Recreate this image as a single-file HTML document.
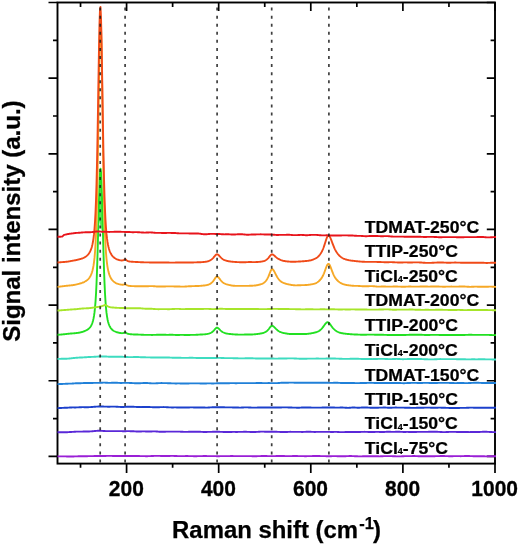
<!DOCTYPE html>
<html><head><meta charset="utf-8"><title>Raman spectra</title>
<style>
html,body{margin:0;padding:0;background:#fff}
svg{display:block;font-family:"Liberation Sans",sans-serif;font-weight:bold;fill:#000}
</style></head><body>
<svg width="520" height="545" viewBox="0 0 520 545">
<rect width="520" height="545" fill="#fff"/>
<rect x="57.5" y="2.5" width="437.5" height="461.1" fill="none" stroke="#000" stroke-width="1.9"/>
<path d="M48.5 2.50H57.5M486.8 2.50H495M48.5 78.15H57.5M486.8 78.15H495M48.5 153.80H57.5M486.8 153.80H495M48.5 229.45H57.5M486.8 229.45H495M48.5 305.10H57.5M486.8 305.10H495M48.5 380.75H57.5M486.8 380.75H495M48.5 456.40H57.5M486.8 456.40H495M53 40.33H57.5M490.6 40.33H495M53 115.98H57.5M490.6 115.98H495M53 191.62H57.5M490.6 191.62H495M53 267.28H57.5M490.6 267.28H495M53 342.93H57.5M490.6 342.93H495M53 418.58H57.5M490.6 418.58H495M126.58 2.5V11M126.58 463.6V473M218.68 2.5V11M218.68 463.6V473M310.79 2.5V11M310.79 463.6V473M402.89 2.5V11M402.89 463.6V473M495.00 2.5V11M495.00 463.6V473M80.53 2.5V7M80.53 463.6V467.8M172.63 2.5V7M172.63 463.6V467.8M264.74 2.5V7M264.74 463.6V467.8M356.84 2.5V7M356.84 463.6V467.8M448.95 2.5V7M448.95 463.6V467.8" fill="none" stroke="#000" stroke-width="1.7"/>
<g fill="none" stroke-width="1.9" stroke-linejoin="round" stroke-linecap="butt">
<path d="M57.5 456.37 L58.0 456.36 L58.5 456.35 L59.0 456.35 L59.5 456.35 L60.0 456.35 L60.5 456.35 L61.0 456.35 L61.5 456.36 L62.0 456.36 L62.5 456.37 L63.0 456.37 L63.5 456.38 L64.0 456.39 L64.5 456.40 L65.0 456.41 L65.5 456.42 L66.0 456.42 L66.5 456.43 L67.0 456.43 L67.5 456.43 L68.0 456.44 L68.5 456.44 L69.0 456.44 L69.5 456.44 L70.0 456.45 L70.5 456.45 L71.0 456.45 L71.5 456.45 L72.0 456.45 L72.5 456.45 L73.0 456.45 L73.5 456.44 L74.0 456.43 L74.5 456.42 L75.0 456.41 L75.5 456.40 L76.0 456.38 L76.5 456.37 L77.0 456.35 L77.5 456.33 L78.0 456.31 L78.5 456.29 L79.0 456.27 L79.5 456.25 L80.0 456.24 L80.5 456.23 L81.0 456.22 L81.5 456.21 L82.0 456.20 L82.5 456.20 L83.0 456.20 L83.5 456.20 L84.0 456.20 L84.5 456.20 L85.0 456.20 L85.5 456.20 L86.0 456.20 L86.5 456.20 L87.0 456.19 L87.5 456.18 L88.0 456.17 L88.5 456.17 L89.0 456.16 L89.5 456.16 L90.0 456.15 L90.5 456.15 L91.0 456.15 L91.5 456.14 L92.0 456.13 L92.5 456.12 L93.0 456.11 L93.5 456.09 L94.0 456.07 L94.5 456.05 L95.0 456.02 L95.5 456.00 L96.0 455.98 L96.5 455.97 L97.0 455.96 L97.5 455.95 L98.0 455.95 L98.5 455.95 L99.0 455.96 L99.5 455.96 L100.0 455.97 L100.5 455.98 L101.0 455.98 L101.5 455.99 L102.0 455.99 L102.5 455.99 L103.0 455.98 L103.5 455.98 L104.0 455.97 L104.5 455.96 L105.0 455.95 L105.5 455.94 L106.0 455.93 L106.5 455.92 L107.0 455.91 L107.5 455.90 L108.0 455.89 L108.5 455.88 L109.0 455.87 L109.5 455.87 L110.0 455.87 L110.5 455.88 L111.0 455.89 L111.5 455.91 L112.0 455.92 L112.5 455.94 L113.0 455.96 L113.5 455.98 L114.0 455.99 L114.5 456.00 L115.0 456.00 L115.5 456.01 L116.0 456.00 L116.5 456.00 L117.0 455.99 L117.5 455.99 L118.0 455.98 L118.5 455.98 L119.0 455.97 L119.5 455.97 L120.0 455.97 L120.5 455.97 L121.0 455.97 L121.5 455.97 L122.0 455.96 L122.5 455.96 L123.0 455.95 L123.5 455.95 L124.0 455.94 L124.5 455.94 L125.0 455.94 L125.5 455.94 L126.0 455.94 L126.5 455.94 L127.0 455.94 L127.5 455.94 L128.0 455.94 L128.5 455.94 L129.0 455.94 L129.5 455.94 L130.0 455.94 L130.5 455.94 L131.0 455.94 L131.5 455.94 L132.0 455.94 L132.5 455.95 L133.0 455.95 L133.5 455.95 L134.0 455.96 L134.5 455.96 L135.0 455.97 L135.5 455.98 L136.0 455.99 L136.5 456.00 L137.0 456.01 L137.5 456.02 L138.0 456.03 L138.5 456.04 L139.0 456.06 L139.5 456.07 L140.0 456.08 L140.5 456.09 L141.0 456.10 L141.5 456.11 L142.0 456.12 L142.5 456.13 L143.0 456.14 L143.5 456.15 L144.0 456.16 L144.5 456.17 L145.0 456.17 L145.5 456.18 L146.0 456.19 L146.5 456.19 L147.0 456.19 L147.5 456.18 L148.0 456.17 L148.5 456.16 L149.0 456.15 L149.5 456.13 L150.0 456.10 L150.5 456.08 L151.0 456.05 L151.5 456.02 L152.0 456.00 L152.5 455.97 L153.0 455.95 L153.5 455.93 L154.0 455.92 L154.5 455.91 L155.0 455.90 L155.5 455.89 L156.0 455.89 L156.5 455.88 L157.0 455.88 L157.5 455.89 L158.0 455.89 L158.5 455.89 L159.0 455.90 L159.5 455.91 L160.0 455.92 L160.5 455.93 L161.0 455.94 L161.5 455.96 L162.0 455.98 L162.5 455.99 L163.0 456.01 L163.5 456.02 L164.0 456.03 L164.5 456.04 L165.0 456.04 L165.5 456.05 L166.0 456.04 L166.5 456.04 L167.0 456.03 L167.5 456.02 L168.0 456.00 L168.5 455.99 L169.0 455.97 L169.5 455.95 L170.0 455.93 L170.5 455.91 L171.0 455.90 L171.5 455.89 L172.0 455.88 L172.5 455.89 L173.0 455.90 L173.5 455.92 L174.0 455.94 L174.5 455.97 L175.0 455.99 L175.5 456.02 L176.0 456.04 L176.5 456.06 L177.0 456.07 L177.5 456.08 L178.0 456.09 L178.5 456.09 L179.0 456.09 L179.5 456.09 L180.0 456.09 L180.5 456.08 L181.0 456.08 L181.5 456.08 L182.0 456.09 L182.5 456.09 L183.0 456.09 L183.5 456.09 L184.0 456.08 L184.5 456.08 L185.0 456.08 L185.5 456.07 L186.0 456.07 L186.5 456.06 L187.0 456.06 L187.5 456.07 L188.0 456.07 L188.5 456.08 L189.0 456.09 L189.5 456.11 L190.0 456.12 L190.5 456.13 L191.0 456.14 L191.5 456.15 L192.0 456.16 L192.5 456.17 L193.0 456.17 L193.5 456.18 L194.0 456.18 L194.5 456.19 L195.0 456.19 L195.5 456.19 L196.0 456.18 L196.5 456.18 L197.0 456.18 L197.5 456.17 L198.0 456.17 L198.5 456.16 L199.0 456.15 L199.5 456.14 L200.0 456.13 L200.5 456.12 L201.0 456.11 L201.5 456.10 L202.0 456.09 L202.5 456.08 L203.0 456.07 L203.5 456.06 L204.0 456.05 L204.5 456.05 L205.0 456.05 L205.5 456.05 L206.0 456.06 L206.5 456.07 L207.0 456.08 L207.5 456.09 L208.0 456.10 L208.5 456.11 L209.0 456.11 L209.5 456.12 L210.0 456.12 L210.5 456.12 L211.0 456.12 L211.5 456.12 L212.0 456.11 L212.5 456.11 L213.0 456.11 L213.5 456.12 L214.0 456.12 L214.5 456.13 L215.0 456.14 L215.5 456.15 L216.0 456.17 L216.5 456.18 L217.0 456.19 L217.5 456.20 L218.0 456.20 L218.5 456.19 L219.0 456.19 L219.5 456.18 L220.0 456.17 L220.5 456.16 L221.0 456.15 L221.5 456.14 L222.0 456.13 L222.5 456.12 L223.0 456.12 L223.5 456.12 L224.0 456.13 L224.5 456.13 L225.0 456.14 L225.5 456.15 L226.0 456.15 L226.5 456.15 L227.0 456.15 L227.5 456.14 L228.0 456.13 L228.5 456.12 L229.0 456.11 L229.5 456.09 L230.0 456.08 L230.5 456.07 L231.0 456.06 L231.5 456.06 L232.0 456.06 L232.5 456.06 L233.0 456.07 L233.5 456.08 L234.0 456.08 L234.5 456.09 L235.0 456.09 L235.5 456.10 L236.0 456.10 L236.5 456.10 L237.0 456.11 L237.5 456.11 L238.0 456.11 L238.5 456.12 L239.0 456.13 L239.5 456.13 L240.0 456.13 L240.5 456.13 L241.0 456.13 L241.5 456.12 L242.0 456.11 L242.5 456.10 L243.0 456.09 L243.5 456.09 L244.0 456.08 L244.5 456.08 L245.0 456.08 L245.5 456.08 L246.0 456.09 L246.5 456.09 L247.0 456.10 L247.5 456.10 L248.0 456.11 L248.5 456.12 L249.0 456.12 L249.5 456.13 L250.0 456.14 L250.5 456.15 L251.0 456.16 L251.5 456.17 L252.0 456.18 L252.5 456.19 L253.0 456.20 L253.5 456.21 L254.0 456.21 L254.5 456.21 L255.0 456.21 L255.5 456.21 L256.0 456.20 L256.5 456.19 L257.0 456.18 L257.5 456.16 L258.0 456.15 L258.5 456.13 L259.0 456.12 L259.5 456.11 L260.0 456.09 L260.5 456.08 L261.0 456.07 L261.5 456.06 L262.0 456.05 L262.5 456.04 L263.0 456.03 L263.5 456.02 L264.0 456.02 L264.5 456.02 L265.0 456.03 L265.5 456.04 L266.0 456.05 L266.5 456.06 L267.0 456.07 L267.5 456.09 L268.0 456.10 L268.5 456.11 L269.0 456.13 L269.5 456.14 L270.0 456.14 L270.5 456.15 L271.0 456.15 L271.5 456.15 L272.0 456.15 L272.5 456.15 L273.0 456.14 L273.5 456.13 L274.0 456.12 L274.5 456.11 L275.0 456.10 L275.5 456.09 L276.0 456.07 L276.5 456.06 L277.0 456.04 L277.5 456.03 L278.0 456.02 L278.5 456.01 L279.0 456.01 L279.5 456.00 L280.0 456.00 L280.5 456.00 L281.0 456.01 L281.5 456.01 L282.0 456.02 L282.5 456.03 L283.0 456.04 L283.5 456.05 L284.0 456.06 L284.5 456.07 L285.0 456.08 L285.5 456.09 L286.0 456.11 L286.5 456.12 L287.0 456.13 L287.5 456.13 L288.0 456.14 L288.5 456.13 L289.0 456.13 L289.5 456.12 L290.0 456.11 L290.5 456.10 L291.0 456.09 L291.5 456.08 L292.0 456.08 L292.5 456.07 L293.0 456.06 L293.5 456.06 L294.0 456.06 L294.5 456.06 L295.0 456.06 L295.5 456.06 L296.0 456.06 L296.5 456.07 L297.0 456.07 L297.5 456.07 L298.0 456.08 L298.5 456.08 L299.0 456.08 L299.5 456.09 L300.0 456.09 L300.5 456.09 L301.0 456.10 L301.5 456.11 L302.0 456.12 L302.5 456.13 L303.0 456.14 L303.5 456.16 L304.0 456.17 L304.5 456.18 L305.0 456.18 L305.5 456.18 L306.0 456.18 L306.5 456.18 L307.0 456.17 L307.5 456.16 L308.0 456.15 L308.5 456.14 L309.0 456.13 L309.5 456.12 L310.0 456.11 L310.5 456.11 L311.0 456.10 L311.5 456.09 L312.0 456.08 L312.5 456.07 L313.0 456.06 L313.5 456.06 L314.0 456.05 L314.5 456.04 L315.0 456.03 L315.5 456.03 L316.0 456.03 L316.5 456.03 L317.0 456.03 L317.5 456.04 L318.0 456.04 L318.5 456.05 L319.0 456.06 L319.5 456.06 L320.0 456.07 L320.5 456.08 L321.0 456.09 L321.5 456.10 L322.0 456.11 L322.5 456.12 L323.0 456.12 L323.5 456.13 L324.0 456.14 L324.5 456.15 L325.0 456.16 L325.5 456.17 L326.0 456.18 L326.5 456.19 L327.0 456.20 L327.5 456.21 L328.0 456.21 L328.5 456.21 L329.0 456.22 L329.5 456.22 L330.0 456.21 L330.5 456.20 L331.0 456.19 L331.5 456.18 L332.0 456.17 L332.5 456.15 L333.0 456.14 L333.5 456.13 L334.0 456.12 L334.5 456.12 L335.0 456.13 L335.5 456.14 L336.0 456.15 L336.5 456.17 L337.0 456.19 L337.5 456.21 L338.0 456.22 L338.5 456.23 L339.0 456.23 L339.5 456.24 L340.0 456.24 L340.5 456.24 L341.0 456.24 L341.5 456.24 L342.0 456.25 L342.5 456.25 L343.0 456.25 L343.5 456.25 L344.0 456.24 L344.5 456.23 L345.0 456.22 L345.5 456.21 L346.0 456.19 L346.5 456.17 L347.0 456.15 L347.5 456.12 L348.0 456.10 L348.5 456.09 L349.0 456.07 L349.5 456.06 L350.0 456.05 L350.5 456.05 L351.0 456.06 L351.5 456.06 L352.0 456.08 L352.5 456.09 L353.0 456.11 L353.5 456.13 L354.0 456.15 L354.5 456.18 L355.0 456.20 L355.5 456.23 L356.0 456.25 L356.5 456.28 L357.0 456.30 L357.5 456.31 L358.0 456.33 L358.5 456.34 L359.0 456.34 L359.5 456.35 L360.0 456.35 L360.5 456.35 L361.0 456.34 L361.5 456.34 L362.0 456.33 L362.5 456.32 L363.0 456.30 L363.5 456.29 L364.0 456.27 L364.5 456.26 L365.0 456.24 L365.5 456.22 L366.0 456.21 L366.5 456.20 L367.0 456.19 L367.5 456.18 L368.0 456.18 L368.5 456.18 L369.0 456.18 L369.5 456.19 L370.0 456.19 L370.5 456.20 L371.0 456.20 L371.5 456.20 L372.0 456.20 L372.5 456.20 L373.0 456.20 L373.5 456.20 L374.0 456.20 L374.5 456.20 L375.0 456.20 L375.5 456.21 L376.0 456.23 L376.5 456.24 L377.0 456.26 L377.5 456.28 L378.0 456.30 L378.5 456.32 L379.0 456.33 L379.5 456.33 L380.0 456.33 L380.5 456.32 L381.0 456.30 L381.5 456.28 L382.0 456.25 L382.5 456.23 L383.0 456.20 L383.5 456.17 L384.0 456.15 L384.5 456.14 L385.0 456.13 L385.5 456.12 L386.0 456.12 L386.5 456.12 L387.0 456.13 L387.5 456.13 L388.0 456.14 L388.5 456.14 L389.0 456.14 L389.5 456.14 L390.0 456.15 L390.5 456.15 L391.0 456.15 L391.5 456.16 L392.0 456.17 L392.5 456.18 L393.0 456.20 L393.5 456.22 L394.0 456.24 L394.5 456.26 L395.0 456.29 L395.5 456.31 L396.0 456.33 L396.5 456.35 L397.0 456.36 L397.5 456.37 L398.0 456.38 L398.5 456.38 L399.0 456.38 L399.5 456.37 L400.0 456.36 L400.5 456.35 L401.0 456.33 L401.5 456.32 L402.0 456.29 L402.5 456.27 L403.0 456.24 L403.5 456.22 L404.0 456.20 L404.5 456.17 L405.0 456.16 L405.5 456.14 L406.0 456.13 L406.5 456.13 L407.0 456.12 L407.5 456.13 L408.0 456.13 L408.5 456.13 L409.0 456.14 L409.5 456.14 L410.0 456.13 L410.5 456.13 L411.0 456.12 L411.5 456.10 L412.0 456.09 L412.5 456.07 L413.0 456.06 L413.5 456.06 L414.0 456.05 L414.5 456.06 L415.0 456.06 L415.5 456.08 L416.0 456.09 L416.5 456.12 L417.0 456.14 L417.5 456.17 L418.0 456.19 L418.5 456.22 L419.0 456.25 L419.5 456.27 L420.0 456.29 L420.5 456.30 L421.0 456.30 L421.5 456.30 L422.0 456.29 L422.5 456.28 L423.0 456.27 L423.5 456.25 L424.0 456.24 L424.5 456.24 L425.0 456.23 L425.5 456.23 L426.0 456.23 L426.5 456.23 L427.0 456.24 L427.5 456.24 L428.0 456.25 L428.5 456.25 L429.0 456.25 L429.5 456.25 L430.0 456.25 L430.5 456.24 L431.0 456.24 L431.5 456.23 L432.0 456.22 L432.5 456.22 L433.0 456.21 L433.5 456.20 L434.0 456.19 L434.5 456.19 L435.0 456.18 L435.5 456.17 L436.0 456.16 L436.5 456.16 L437.0 456.14 L437.5 456.13 L438.0 456.12 L438.5 456.10 L439.0 456.09 L439.5 456.08 L440.0 456.07 L440.5 456.07 L441.0 456.07 L441.5 456.07 L442.0 456.07 L442.5 456.07 L443.0 456.07 L443.5 456.07 L444.0 456.07 L444.5 456.07 L445.0 456.08 L445.5 456.08 L446.0 456.09 L446.5 456.11 L447.0 456.12 L447.5 456.14 L448.0 456.17 L448.5 456.18 L449.0 456.20 L449.5 456.21 L450.0 456.22 L450.5 456.23 L451.0 456.22 L451.5 456.21 L452.0 456.20 L452.5 456.19 L453.0 456.18 L453.5 456.16 L454.0 456.15 L454.5 456.13 L455.0 456.12 L455.5 456.11 L456.0 456.11 L456.5 456.11 L457.0 456.11 L457.5 456.12 L458.0 456.13 L458.5 456.14 L459.0 456.15 L459.5 456.16 L460.0 456.17 L460.5 456.18 L461.0 456.18 L461.5 456.17 L462.0 456.16 L462.5 456.15 L463.0 456.13 L463.5 456.10 L464.0 456.08 L464.5 456.06 L465.0 456.04 L465.5 456.02 L466.0 456.01 L466.5 456.00 L467.0 456.00 L467.5 456.00 L468.0 456.01 L468.5 456.02 L469.0 456.04 L469.5 456.06 L470.0 456.08 L470.5 456.10 L471.0 456.11 L471.5 456.13 L472.0 456.15 L472.5 456.16 L473.0 456.18 L473.5 456.20 L474.0 456.21 L474.5 456.23 L475.0 456.25 L475.5 456.26 L476.0 456.27 L476.5 456.28 L477.0 456.29 L477.5 456.29 L478.0 456.29 L478.5 456.28 L479.0 456.28 L479.5 456.27 L480.0 456.26 L480.5 456.25 L481.0 456.25 L481.5 456.25 L482.0 456.25 L482.5 456.26 L483.0 456.27 L483.5 456.29 L484.0 456.30 L484.5 456.32 L485.0 456.33 L485.5 456.34 L486.0 456.34 L486.5 456.34 L487.0 456.34 L487.5 456.33 L488.0 456.32 L488.5 456.30 L489.0 456.29 L489.5 456.27 L490.0 456.25 L490.5 456.23 L491.0 456.22 L491.5 456.21 L492.0 456.20 L492.5 456.19 L493.0 456.19 L493.5 456.19 L494.0 456.19 L494.5 456.20 L495.0 456.22 L495.5 456.23 L496.0 456.25" stroke="#9a1fd6"/>
<path d="M57.5 432.32 L58.0 432.31 L58.5 432.29 L59.0 432.28 L59.5 432.26 L60.0 432.24 L60.5 432.22 L61.0 432.21 L61.5 432.20 L62.0 432.20 L62.5 432.20 L63.0 432.20 L63.5 432.21 L64.0 432.22 L64.5 432.23 L65.0 432.23 L65.5 432.23 L66.0 432.23 L66.5 432.22 L67.0 432.20 L67.5 432.18 L68.0 432.15 L68.5 432.12 L69.0 432.10 L69.5 432.07 L70.0 432.04 L70.5 432.01 L71.0 431.98 L71.5 431.95 L72.0 431.92 L72.5 431.89 L73.0 431.86 L73.5 431.83 L74.0 431.79 L74.5 431.76 L75.0 431.73 L75.5 431.69 L76.0 431.67 L76.5 431.64 L77.0 431.62 L77.5 431.61 L78.0 431.60 L78.5 431.59 L79.0 431.59 L79.5 431.59 L80.0 431.60 L80.5 431.60 L81.0 431.60 L81.5 431.60 L82.0 431.60 L82.5 431.59 L83.0 431.57 L83.5 431.56 L84.0 431.54 L84.5 431.52 L85.0 431.50 L85.5 431.48 L86.0 431.47 L86.5 431.46 L87.0 431.45 L87.5 431.45 L88.0 431.45 L88.5 431.44 L89.0 431.44 L89.5 431.43 L90.0 431.42 L90.5 431.40 L91.0 431.38 L91.5 431.34 L92.0 431.30 L92.5 431.25 L93.0 431.20 L93.5 431.15 L94.0 431.10 L94.5 431.05 L95.0 431.00 L95.5 430.95 L96.0 430.91 L96.5 430.88 L97.0 430.85 L97.5 430.82 L98.0 430.80 L98.5 430.78 L99.0 430.77 L99.5 430.76 L100.0 430.76 L100.5 430.78 L101.0 430.81 L101.5 430.84 L102.0 430.88 L102.5 430.91 L103.0 430.95 L103.5 430.99 L104.0 431.02 L104.5 431.05 L105.0 431.07 L105.5 431.09 L106.0 431.11 L106.5 431.12 L107.0 431.12 L107.5 431.12 L108.0 431.12 L108.5 431.12 L109.0 431.11 L109.5 431.11 L110.0 431.10 L110.5 431.10 L111.0 431.10 L111.5 431.10 L112.0 431.10 L112.5 431.11 L113.0 431.12 L113.5 431.12 L114.0 431.13 L114.5 431.13 L115.0 431.13 L115.5 431.13 L116.0 431.13 L116.5 431.12 L117.0 431.11 L117.5 431.10 L118.0 431.10 L118.5 431.09 L119.0 431.09 L119.5 431.09 L120.0 431.10 L120.5 431.11 L121.0 431.13 L121.5 431.15 L122.0 431.17 L122.5 431.19 L123.0 431.21 L123.5 431.22 L124.0 431.23 L124.5 431.22 L125.0 431.21 L125.5 431.20 L126.0 431.19 L126.5 431.17 L127.0 431.16 L127.5 431.15 L128.0 431.15 L128.5 431.15 L129.0 431.16 L129.5 431.17 L130.0 431.18 L130.5 431.19 L131.0 431.21 L131.5 431.22 L132.0 431.24 L132.5 431.25 L133.0 431.27 L133.5 431.30 L134.0 431.32 L134.5 431.35 L135.0 431.39 L135.5 431.42 L136.0 431.45 L136.5 431.48 L137.0 431.50 L137.5 431.52 L138.0 431.53 L138.5 431.53 L139.0 431.53 L139.5 431.51 L140.0 431.50 L140.5 431.48 L141.0 431.45 L141.5 431.43 L142.0 431.42 L142.5 431.40 L143.0 431.40 L143.5 431.40 L144.0 431.40 L144.5 431.41 L145.0 431.42 L145.5 431.44 L146.0 431.45 L146.5 431.47 L147.0 431.48 L147.5 431.49 L148.0 431.50 L148.5 431.50 L149.0 431.50 L149.5 431.49 L150.0 431.48 L150.5 431.47 L151.0 431.46 L151.5 431.44 L152.0 431.43 L152.5 431.42 L153.0 431.40 L153.5 431.40 L154.0 431.39 L154.5 431.40 L155.0 431.40 L155.5 431.42 L156.0 431.44 L156.5 431.48 L157.0 431.51 L157.5 431.55 L158.0 431.60 L158.5 431.64 L159.0 431.68 L159.5 431.71 L160.0 431.74 L160.5 431.76 L161.0 431.77 L161.5 431.77 L162.0 431.76 L162.5 431.75 L163.0 431.73 L163.5 431.72 L164.0 431.70 L164.5 431.69 L165.0 431.68 L165.5 431.68 L166.0 431.67 L166.5 431.67 L167.0 431.67 L167.5 431.66 L168.0 431.65 L168.5 431.65 L169.0 431.63 L169.5 431.62 L170.0 431.61 L170.5 431.60 L171.0 431.60 L171.5 431.59 L172.0 431.59 L172.5 431.59 L173.0 431.58 L173.5 431.58 L174.0 431.58 L174.5 431.58 L175.0 431.59 L175.5 431.59 L176.0 431.59 L176.5 431.59 L177.0 431.60 L177.5 431.60 L178.0 431.61 L178.5 431.62 L179.0 431.63 L179.5 431.65 L180.0 431.66 L180.5 431.68 L181.0 431.70 L181.5 431.72 L182.0 431.75 L182.5 431.78 L183.0 431.81 L183.5 431.84 L184.0 431.87 L184.5 431.89 L185.0 431.90 L185.5 431.91 L186.0 431.91 L186.5 431.90 L187.0 431.88 L187.5 431.85 L188.0 431.83 L188.5 431.80 L189.0 431.78 L189.5 431.77 L190.0 431.75 L190.5 431.75 L191.0 431.75 L191.5 431.76 L192.0 431.76 L192.5 431.77 L193.0 431.78 L193.5 431.79 L194.0 431.79 L194.5 431.79 L195.0 431.79 L195.5 431.78 L196.0 431.77 L196.5 431.76 L197.0 431.75 L197.5 431.74 L198.0 431.74 L198.5 431.75 L199.0 431.76 L199.5 431.77 L200.0 431.79 L200.5 431.81 L201.0 431.83 L201.5 431.86 L202.0 431.88 L202.5 431.91 L203.0 431.93 L203.5 431.94 L204.0 431.96 L204.5 431.96 L205.0 431.96 L205.5 431.96 L206.0 431.95 L206.5 431.94 L207.0 431.93 L207.5 431.92 L208.0 431.91 L208.5 431.90 L209.0 431.89 L209.5 431.89 L210.0 431.88 L210.5 431.87 L211.0 431.86 L211.5 431.84 L212.0 431.83 L212.5 431.81 L213.0 431.80 L213.5 431.78 L214.0 431.78 L214.5 431.77 L215.0 431.77 L215.5 431.77 L216.0 431.78 L216.5 431.78 L217.0 431.79 L217.5 431.79 L218.0 431.80 L218.5 431.80 L219.0 431.81 L219.5 431.82 L220.0 431.83 L220.5 431.84 L221.0 431.85 L221.5 431.87 L222.0 431.89 L222.5 431.91 L223.0 431.93 L223.5 431.95 L224.0 431.97 L224.5 431.98 L225.0 431.99 L225.5 432.00 L226.0 432.00 L226.5 432.00 L227.0 432.00 L227.5 432.00 L228.0 432.00 L228.5 431.99 L229.0 431.99 L229.5 431.98 L230.0 431.98 L230.5 431.97 L231.0 431.96 L231.5 431.95 L232.0 431.93 L232.5 431.92 L233.0 431.92 L233.5 431.91 L234.0 431.91 L234.5 431.92 L235.0 431.92 L235.5 431.93 L236.0 431.93 L236.5 431.93 L237.0 431.93 L237.5 431.93 L238.0 431.92 L238.5 431.91 L239.0 431.89 L239.5 431.88 L240.0 431.87 L240.5 431.86 L241.0 431.85 L241.5 431.84 L242.0 431.83 L242.5 431.83 L243.0 431.83 L243.5 431.82 L244.0 431.82 L244.5 431.82 L245.0 431.81 L245.5 431.81 L246.0 431.81 L246.5 431.82 L247.0 431.83 L247.5 431.84 L248.0 431.85 L248.5 431.87 L249.0 431.89 L249.5 431.91 L250.0 431.93 L250.5 431.95 L251.0 431.97 L251.5 431.99 L252.0 432.00 L252.5 432.01 L253.0 432.01 L253.5 432.01 L254.0 432.01 L254.5 432.00 L255.0 431.98 L255.5 431.97 L256.0 431.94 L256.5 431.92 L257.0 431.89 L257.5 431.86 L258.0 431.83 L258.5 431.79 L259.0 431.76 L259.5 431.72 L260.0 431.69 L260.5 431.66 L261.0 431.64 L261.5 431.62 L262.0 431.61 L262.5 431.61 L263.0 431.62 L263.5 431.64 L264.0 431.66 L264.5 431.68 L265.0 431.71 L265.5 431.74 L266.0 431.76 L266.5 431.78 L267.0 431.79 L267.5 431.80 L268.0 431.80 L268.5 431.80 L269.0 431.79 L269.5 431.78 L270.0 431.78 L270.5 431.77 L271.0 431.77 L271.5 431.77 L272.0 431.77 L272.5 431.77 L273.0 431.77 L273.5 431.77 L274.0 431.77 L274.5 431.77 L275.0 431.78 L275.5 431.78 L276.0 431.79 L276.5 431.80 L277.0 431.82 L277.5 431.84 L278.0 431.86 L278.5 431.88 L279.0 431.90 L279.5 431.92 L280.0 431.93 L280.5 431.94 L281.0 431.95 L281.5 431.96 L282.0 431.96 L282.5 431.97 L283.0 431.97 L283.5 431.98 L284.0 431.99 L284.5 432.00 L285.0 432.00 L285.5 432.00 L286.0 431.99 L286.5 431.97 L287.0 431.95 L287.5 431.93 L288.0 431.90 L288.5 431.87 L289.0 431.84 L289.5 431.83 L290.0 431.82 L290.5 431.82 L291.0 431.83 L291.5 431.84 L292.0 431.86 L292.5 431.87 L293.0 431.88 L293.5 431.89 L294.0 431.89 L294.5 431.89 L295.0 431.88 L295.5 431.87 L296.0 431.86 L296.5 431.85 L297.0 431.84 L297.5 431.84 L298.0 431.84 L298.5 431.85 L299.0 431.86 L299.5 431.87 L300.0 431.89 L300.5 431.90 L301.0 431.92 L301.5 431.93 L302.0 431.94 L302.5 431.94 L303.0 431.93 L303.5 431.92 L304.0 431.91 L304.5 431.88 L305.0 431.86 L305.5 431.83 L306.0 431.80 L306.5 431.78 L307.0 431.76 L307.5 431.74 L308.0 431.73 L308.5 431.73 L309.0 431.74 L309.5 431.75 L310.0 431.77 L310.5 431.80 L311.0 431.82 L311.5 431.85 L312.0 431.87 L312.5 431.89 L313.0 431.91 L313.5 431.92 L314.0 431.93 L314.5 431.93 L315.0 431.93 L315.5 431.93 L316.0 431.92 L316.5 431.92 L317.0 431.91 L317.5 431.90 L318.0 431.90 L318.5 431.90 L319.0 431.90 L319.5 431.90 L320.0 431.90 L320.5 431.91 L321.0 431.91 L321.5 431.91 L322.0 431.91 L322.5 431.90 L323.0 431.89 L323.5 431.88 L324.0 431.86 L324.5 431.85 L325.0 431.84 L325.5 431.83 L326.0 431.83 L326.5 431.83 L327.0 431.83 L327.5 431.84 L328.0 431.85 L328.5 431.86 L329.0 431.88 L329.5 431.90 L330.0 431.92 L330.5 431.94 L331.0 431.95 L331.5 431.96 L332.0 431.96 L332.5 431.95 L333.0 431.94 L333.5 431.93 L334.0 431.91 L334.5 431.90 L335.0 431.89 L335.5 431.88 L336.0 431.89 L336.5 431.90 L337.0 431.92 L337.5 431.94 L338.0 431.97 L338.5 432.01 L339.0 432.05 L339.5 432.08 L340.0 432.11 L340.5 432.14 L341.0 432.16 L341.5 432.17 L342.0 432.17 L342.5 432.17 L343.0 432.16 L343.5 432.15 L344.0 432.13 L344.5 432.10 L345.0 432.07 L345.5 432.04 L346.0 432.01 L346.5 431.99 L347.0 431.97 L347.5 431.95 L348.0 431.95 L348.5 431.95 L349.0 431.95 L349.5 431.96 L350.0 431.97 L350.5 431.98 L351.0 431.99 L351.5 432.00 L352.0 432.01 L352.5 432.01 L353.0 432.02 L353.5 432.02 L354.0 432.02 L354.5 432.02 L355.0 432.02 L355.5 432.02 L356.0 432.02 L356.5 432.01 L357.0 432.01 L357.5 432.00 L358.0 431.99 L358.5 431.99 L359.0 431.97 L359.5 431.96 L360.0 431.95 L360.5 431.93 L361.0 431.92 L361.5 431.90 L362.0 431.88 L362.5 431.86 L363.0 431.85 L363.5 431.84 L364.0 431.83 L364.5 431.82 L365.0 431.83 L365.5 431.84 L366.0 431.85 L366.5 431.87 L367.0 431.90 L367.5 431.92 L368.0 431.95 L368.5 431.97 L369.0 431.99 L369.5 432.00 L370.0 432.01 L370.5 432.02 L371.0 432.02 L371.5 432.01 L372.0 432.01 L372.5 432.00 L373.0 431.99 L373.5 431.98 L374.0 431.96 L374.5 431.95 L375.0 431.93 L375.5 431.92 L376.0 431.91 L376.5 431.90 L377.0 431.89 L377.5 431.89 L378.0 431.89 L378.5 431.90 L379.0 431.92 L379.5 431.94 L380.0 431.96 L380.5 431.99 L381.0 432.01 L381.5 432.02 L382.0 432.03 L382.5 432.02 L383.0 432.01 L383.5 431.99 L384.0 431.97 L384.5 431.94 L385.0 431.90 L385.5 431.87 L386.0 431.84 L386.5 431.81 L387.0 431.79 L387.5 431.78 L388.0 431.77 L388.5 431.77 L389.0 431.78 L389.5 431.79 L390.0 431.80 L390.5 431.81 L391.0 431.83 L391.5 431.84 L392.0 431.85 L392.5 431.86 L393.0 431.86 L393.5 431.86 L394.0 431.85 L394.5 431.84 L395.0 431.83 L395.5 431.81 L396.0 431.79 L396.5 431.78 L397.0 431.77 L397.5 431.76 L398.0 431.76 L398.5 431.77 L399.0 431.78 L399.5 431.80 L400.0 431.82 L400.5 431.85 L401.0 431.87 L401.5 431.89 L402.0 431.91 L402.5 431.92 L403.0 431.93 L403.5 431.94 L404.0 431.94 L404.5 431.94 L405.0 431.93 L405.5 431.93 L406.0 431.93 L406.5 431.92 L407.0 431.92 L407.5 431.92 L408.0 431.92 L408.5 431.93 L409.0 431.93 L409.5 431.94 L410.0 431.96 L410.5 431.97 L411.0 431.99 L411.5 432.00 L412.0 432.02 L412.5 432.03 L413.0 432.04 L413.5 432.04 L414.0 432.03 L414.5 432.02 L415.0 432.00 L415.5 431.98 L416.0 431.96 L416.5 431.93 L417.0 431.91 L417.5 431.88 L418.0 431.87 L418.5 431.85 L419.0 431.84 L419.5 431.84 L420.0 431.83 L420.5 431.84 L421.0 431.84 L421.5 431.84 L422.0 431.85 L422.5 431.86 L423.0 431.87 L423.5 431.88 L424.0 431.89 L424.5 431.90 L425.0 431.90 L425.5 431.91 L426.0 431.90 L426.5 431.89 L427.0 431.88 L427.5 431.86 L428.0 431.84 L428.5 431.81 L429.0 431.79 L429.5 431.77 L430.0 431.75 L430.5 431.73 L431.0 431.72 L431.5 431.71 L432.0 431.70 L432.5 431.70 L433.0 431.70 L433.5 431.71 L434.0 431.72 L434.5 431.73 L435.0 431.74 L435.5 431.75 L436.0 431.77 L436.5 431.78 L437.0 431.80 L437.5 431.82 L438.0 431.83 L438.5 431.85 L439.0 431.88 L439.5 431.90 L440.0 431.93 L440.5 431.96 L441.0 431.99 L441.5 432.03 L442.0 432.05 L442.5 432.08 L443.0 432.10 L443.5 432.11 L444.0 432.12 L444.5 432.11 L445.0 432.10 L445.5 432.09 L446.0 432.07 L446.5 432.04 L447.0 432.02 L447.5 431.99 L448.0 431.97 L448.5 431.94 L449.0 431.92 L449.5 431.90 L450.0 431.89 L450.5 431.88 L451.0 431.87 L451.5 431.86 L452.0 431.85 L452.5 431.85 L453.0 431.86 L453.5 431.86 L454.0 431.87 L454.5 431.88 L455.0 431.90 L455.5 431.91 L456.0 431.92 L456.5 431.93 L457.0 431.94 L457.5 431.95 L458.0 431.96 L458.5 431.97 L459.0 431.98 L459.5 431.99 L460.0 432.00 L460.5 432.01 L461.0 432.02 L461.5 432.02 L462.0 432.03 L462.5 432.03 L463.0 432.03 L463.5 432.02 L464.0 432.02 L464.5 432.02 L465.0 432.01 L465.5 432.02 L466.0 432.02 L466.5 432.03 L467.0 432.04 L467.5 432.05 L468.0 432.06 L468.5 432.07 L469.0 432.08 L469.5 432.08 L470.0 432.07 L470.5 432.07 L471.0 432.05 L471.5 432.04 L472.0 432.03 L472.5 432.02 L473.0 432.01 L473.5 432.00 L474.0 431.99 L474.5 431.99 L475.0 432.00 L475.5 432.00 L476.0 432.00 L476.5 432.01 L477.0 432.01 L477.5 432.01 L478.0 432.01 L478.5 432.00 L479.0 431.98 L479.5 431.96 L480.0 431.94 L480.5 431.91 L481.0 431.89 L481.5 431.86 L482.0 431.83 L482.5 431.81 L483.0 431.79 L483.5 431.77 L484.0 431.76 L484.5 431.76 L485.0 431.76 L485.5 431.76 L486.0 431.78 L486.5 431.79 L487.0 431.81 L487.5 431.84 L488.0 431.86 L488.5 431.89 L489.0 431.92 L489.5 431.95 L490.0 431.98 L490.5 432.00 L491.0 432.03 L491.5 432.05 L492.0 432.07 L492.5 432.08 L493.0 432.10 L493.5 432.11 L494.0 432.12 L494.5 432.13 L495.0 432.14 L495.5 432.14 L496.0 432.14" stroke="#5a28d8"/>
<path d="M57.5 408.13 L58.0 408.11 L58.5 408.09 L59.0 408.07 L59.5 408.04 L60.0 408.02 L60.5 407.99 L61.0 407.96 L61.5 407.93 L62.0 407.90 L62.5 407.88 L63.0 407.85 L63.5 407.83 L64.0 407.81 L64.5 407.79 L65.0 407.78 L65.5 407.76 L66.0 407.75 L66.5 407.73 L67.0 407.71 L67.5 407.69 L68.0 407.66 L68.5 407.63 L69.0 407.60 L69.5 407.56 L70.0 407.53 L70.5 407.50 L71.0 407.47 L71.5 407.45 L72.0 407.43 L72.5 407.42 L73.0 407.42 L73.5 407.42 L74.0 407.43 L74.5 407.43 L75.0 407.44 L75.5 407.43 L76.0 407.43 L76.5 407.42 L77.0 407.40 L77.5 407.38 L78.0 407.35 L78.5 407.33 L79.0 407.30 L79.5 407.27 L80.0 407.24 L80.5 407.21 L81.0 407.19 L81.5 407.18 L82.0 407.16 L82.5 407.16 L83.0 407.16 L83.5 407.17 L84.0 407.18 L84.5 407.19 L85.0 407.21 L85.5 407.22 L86.0 407.23 L86.5 407.23 L87.0 407.23 L87.5 407.22 L88.0 407.21 L88.5 407.19 L89.0 407.17 L89.5 407.14 L90.0 407.11 L90.5 407.08 L91.0 407.05 L91.5 407.02 L92.0 406.98 L92.5 406.94 L93.0 406.90 L93.5 406.86 L94.0 406.82 L94.5 406.78 L95.0 406.74 L95.5 406.70 L96.0 406.66 L96.5 406.63 L97.0 406.60 L97.5 406.58 L98.0 406.56 L98.5 406.54 L99.0 406.52 L99.5 406.51 L100.0 406.50 L100.5 406.50 L101.0 406.51 L101.5 406.52 L102.0 406.53 L102.5 406.54 L103.0 406.55 L103.5 406.56 L104.0 406.58 L104.5 406.59 L105.0 406.61 L105.5 406.62 L106.0 406.64 L106.5 406.66 L107.0 406.67 L107.5 406.69 L108.0 406.70 L108.5 406.70 L109.0 406.70 L109.5 406.70 L110.0 406.69 L110.5 406.67 L111.0 406.65 L111.5 406.63 L112.0 406.61 L112.5 406.60 L113.0 406.59 L113.5 406.58 L114.0 406.59 L114.5 406.60 L115.0 406.62 L115.5 406.65 L116.0 406.68 L116.5 406.71 L117.0 406.75 L117.5 406.78 L118.0 406.81 L118.5 406.84 L119.0 406.87 L119.5 406.89 L120.0 406.91 L120.5 406.93 L121.0 406.94 L121.5 406.95 L122.0 406.95 L122.5 406.95 L123.0 406.95 L123.5 406.94 L124.0 406.93 L124.5 406.91 L125.0 406.89 L125.5 406.87 L126.0 406.84 L126.5 406.82 L127.0 406.80 L127.5 406.78 L128.0 406.76 L128.5 406.75 L129.0 406.75 L129.5 406.74 L130.0 406.74 L130.5 406.74 L131.0 406.75 L131.5 406.75 L132.0 406.76 L132.5 406.77 L133.0 406.78 L133.5 406.80 L134.0 406.82 L134.5 406.84 L135.0 406.86 L135.5 406.89 L136.0 406.91 L136.5 406.94 L137.0 406.96 L137.5 406.98 L138.0 407.01 L138.5 407.02 L139.0 407.04 L139.5 407.06 L140.0 407.07 L140.5 407.07 L141.0 407.08 L141.5 407.07 L142.0 407.07 L142.5 407.06 L143.0 407.05 L143.5 407.03 L144.0 407.02 L144.5 407.00 L145.0 406.99 L145.5 406.98 L146.0 406.98 L146.5 406.98 L147.0 406.98 L147.5 406.99 L148.0 407.00 L148.5 407.02 L149.0 407.03 L149.5 407.05 L150.0 407.07 L150.5 407.08 L151.0 407.10 L151.5 407.12 L152.0 407.15 L152.5 407.18 L153.0 407.20 L153.5 407.23 L154.0 407.26 L154.5 407.29 L155.0 407.30 L155.5 407.31 L156.0 407.32 L156.5 407.31 L157.0 407.30 L157.5 407.28 L158.0 407.26 L158.5 407.24 L159.0 407.22 L159.5 407.19 L160.0 407.17 L160.5 407.15 L161.0 407.13 L161.5 407.11 L162.0 407.09 L162.5 407.08 L163.0 407.08 L163.5 407.07 L164.0 407.08 L164.5 407.09 L165.0 407.11 L165.5 407.13 L166.0 407.16 L166.5 407.19 L167.0 407.22 L167.5 407.25 L168.0 407.28 L168.5 407.32 L169.0 407.34 L169.5 407.37 L170.0 407.39 L170.5 407.41 L171.0 407.42 L171.5 407.43 L172.0 407.43 L172.5 407.43 L173.0 407.43 L173.5 407.43 L174.0 407.42 L174.5 407.41 L175.0 407.41 L175.5 407.41 L176.0 407.42 L176.5 407.43 L177.0 407.44 L177.5 407.46 L178.0 407.48 L178.5 407.50 L179.0 407.51 L179.5 407.52 L180.0 407.53 L180.5 407.52 L181.0 407.52 L181.5 407.51 L182.0 407.50 L182.5 407.49 L183.0 407.48 L183.5 407.47 L184.0 407.47 L184.5 407.47 L185.0 407.47 L185.5 407.47 L186.0 407.47 L186.5 407.47 L187.0 407.46 L187.5 407.46 L188.0 407.46 L188.5 407.45 L189.0 407.44 L189.5 407.43 L190.0 407.42 L190.5 407.42 L191.0 407.41 L191.5 407.41 L192.0 407.41 L192.5 407.41 L193.0 407.42 L193.5 407.43 L194.0 407.44 L194.5 407.46 L195.0 407.48 L195.5 407.49 L196.0 407.51 L196.5 407.52 L197.0 407.53 L197.5 407.53 L198.0 407.53 L198.5 407.53 L199.0 407.52 L199.5 407.51 L200.0 407.50 L200.5 407.49 L201.0 407.49 L201.5 407.48 L202.0 407.48 L202.5 407.49 L203.0 407.50 L203.5 407.51 L204.0 407.53 L204.5 407.55 L205.0 407.57 L205.5 407.58 L206.0 407.60 L206.5 407.60 L207.0 407.59 L207.5 407.58 L208.0 407.55 L208.5 407.52 L209.0 407.49 L209.5 407.45 L210.0 407.41 L210.5 407.38 L211.0 407.35 L211.5 407.33 L212.0 407.31 L212.5 407.30 L213.0 407.29 L213.5 407.29 L214.0 407.29 L214.5 407.29 L215.0 407.28 L215.5 407.28 L216.0 407.28 L216.5 407.28 L217.0 407.28 L217.5 407.28 L218.0 407.29 L218.5 407.30 L219.0 407.30 L219.5 407.31 L220.0 407.31 L220.5 407.31 L221.0 407.31 L221.5 407.31 L222.0 407.31 L222.5 407.30 L223.0 407.31 L223.5 407.31 L224.0 407.31 L224.5 407.32 L225.0 407.33 L225.5 407.33 L226.0 407.33 L226.5 407.34 L227.0 407.34 L227.5 407.34 L228.0 407.34 L228.5 407.34 L229.0 407.35 L229.5 407.36 L230.0 407.37 L230.5 407.39 L231.0 407.40 L231.5 407.41 L232.0 407.42 L232.5 407.43 L233.0 407.44 L233.5 407.44 L234.0 407.45 L234.5 407.46 L235.0 407.46 L235.5 407.47 L236.0 407.49 L236.5 407.50 L237.0 407.52 L237.5 407.54 L238.0 407.55 L238.5 407.57 L239.0 407.58 L239.5 407.59 L240.0 407.59 L240.5 407.59 L241.0 407.58 L241.5 407.56 L242.0 407.54 L242.5 407.51 L243.0 407.48 L243.5 407.45 L244.0 407.42 L244.5 407.40 L245.0 407.38 L245.5 407.37 L246.0 407.37 L246.5 407.37 L247.0 407.38 L247.5 407.39 L248.0 407.41 L248.5 407.43 L249.0 407.46 L249.5 407.48 L250.0 407.51 L250.5 407.54 L251.0 407.56 L251.5 407.59 L252.0 407.61 L252.5 407.63 L253.0 407.65 L253.5 407.66 L254.0 407.67 L254.5 407.67 L255.0 407.66 L255.5 407.65 L256.0 407.64 L256.5 407.62 L257.0 407.59 L257.5 407.57 L258.0 407.54 L258.5 407.53 L259.0 407.51 L259.5 407.50 L260.0 407.50 L260.5 407.51 L261.0 407.52 L261.5 407.52 L262.0 407.53 L262.5 407.53 L263.0 407.53 L263.5 407.52 L264.0 407.51 L264.5 407.49 L265.0 407.48 L265.5 407.47 L266.0 407.46 L266.5 407.46 L267.0 407.46 L267.5 407.46 L268.0 407.47 L268.5 407.47 L269.0 407.48 L269.5 407.49 L270.0 407.49 L270.5 407.50 L271.0 407.50 L271.5 407.50 L272.0 407.50 L272.5 407.50 L273.0 407.50 L273.5 407.49 L274.0 407.49 L274.5 407.50 L275.0 407.50 L275.5 407.51 L276.0 407.52 L276.5 407.53 L277.0 407.54 L277.5 407.54 L278.0 407.55 L278.5 407.55 L279.0 407.54 L279.5 407.53 L280.0 407.52 L280.5 407.50 L281.0 407.47 L281.5 407.45 L282.0 407.42 L282.5 407.40 L283.0 407.38 L283.5 407.36 L284.0 407.34 L284.5 407.34 L285.0 407.33 L285.5 407.34 L286.0 407.35 L286.5 407.37 L287.0 407.39 L287.5 407.41 L288.0 407.43 L288.5 407.45 L289.0 407.47 L289.5 407.49 L290.0 407.51 L290.5 407.52 L291.0 407.54 L291.5 407.56 L292.0 407.57 L292.5 407.59 L293.0 407.60 L293.5 407.61 L294.0 407.62 L294.5 407.63 L295.0 407.65 L295.5 407.66 L296.0 407.67 L296.5 407.69 L297.0 407.70 L297.5 407.71 L298.0 407.71 L298.5 407.71 L299.0 407.70 L299.5 407.69 L300.0 407.67 L300.5 407.64 L301.0 407.61 L301.5 407.57 L302.0 407.54 L302.5 407.51 L303.0 407.49 L303.5 407.48 L304.0 407.47 L304.5 407.47 L305.0 407.48 L305.5 407.49 L306.0 407.50 L306.5 407.52 L307.0 407.53 L307.5 407.53 L308.0 407.53 L308.5 407.54 L309.0 407.54 L309.5 407.54 L310.0 407.55 L310.5 407.56 L311.0 407.57 L311.5 407.59 L312.0 407.60 L312.5 407.61 L313.0 407.63 L313.5 407.63 L314.0 407.64 L314.5 407.64 L315.0 407.64 L315.5 407.64 L316.0 407.64 L316.5 407.63 L317.0 407.63 L317.5 407.62 L318.0 407.62 L318.5 407.61 L319.0 407.61 L319.5 407.61 L320.0 407.60 L320.5 407.60 L321.0 407.59 L321.5 407.58 L322.0 407.57 L322.5 407.56 L323.0 407.55 L323.5 407.54 L324.0 407.52 L324.5 407.50 L325.0 407.49 L325.5 407.47 L326.0 407.46 L326.5 407.45 L327.0 407.44 L327.5 407.43 L328.0 407.43 L328.5 407.43 L329.0 407.44 L329.5 407.45 L330.0 407.46 L330.5 407.48 L331.0 407.49 L331.5 407.51 L332.0 407.52 L332.5 407.53 L333.0 407.54 L333.5 407.55 L334.0 407.56 L334.5 407.57 L335.0 407.58 L335.5 407.59 L336.0 407.60 L336.5 407.60 L337.0 407.61 L337.5 407.61 L338.0 407.61 L338.5 407.60 L339.0 407.60 L339.5 407.58 L340.0 407.57 L340.5 407.56 L341.0 407.56 L341.5 407.55 L342.0 407.55 L342.5 407.56 L343.0 407.57 L343.5 407.59 L344.0 407.62 L344.5 407.65 L345.0 407.68 L345.5 407.72 L346.0 407.75 L346.5 407.79 L347.0 407.81 L347.5 407.83 L348.0 407.84 L348.5 407.84 L349.0 407.82 L349.5 407.79 L350.0 407.75 L350.5 407.71 L351.0 407.66 L351.5 407.61 L352.0 407.57 L352.5 407.53 L353.0 407.51 L353.5 407.50 L354.0 407.50 L354.5 407.52 L355.0 407.55 L355.5 407.58 L356.0 407.62 L356.5 407.65 L357.0 407.68 L357.5 407.71 L358.0 407.72 L358.5 407.72 L359.0 407.71 L359.5 407.69 L360.0 407.67 L360.5 407.63 L361.0 407.60 L361.5 407.56 L362.0 407.53 L362.5 407.50 L363.0 407.48 L363.5 407.47 L364.0 407.46 L364.5 407.46 L365.0 407.46 L365.5 407.47 L366.0 407.49 L366.5 407.51 L367.0 407.53 L367.5 407.55 L368.0 407.58 L368.5 407.61 L369.0 407.64 L369.5 407.67 L370.0 407.70 L370.5 407.73 L371.0 407.75 L371.5 407.78 L372.0 407.79 L372.5 407.81 L373.0 407.82 L373.5 407.82 L374.0 407.82 L374.5 407.82 L375.0 407.81 L375.5 407.79 L376.0 407.78 L376.5 407.75 L377.0 407.73 L377.5 407.71 L378.0 407.69 L378.5 407.68 L379.0 407.66 L379.5 407.65 L380.0 407.64 L380.5 407.63 L381.0 407.62 L381.5 407.61 L382.0 407.60 L382.5 407.58 L383.0 407.57 L383.5 407.56 L384.0 407.55 L384.5 407.55 L385.0 407.56 L385.5 407.57 L386.0 407.59 L386.5 407.62 L387.0 407.65 L387.5 407.68 L388.0 407.71 L388.5 407.73 L389.0 407.74 L389.5 407.75 L390.0 407.76 L390.5 407.75 L391.0 407.74 L391.5 407.72 L392.0 407.69 L392.5 407.67 L393.0 407.64 L393.5 407.62 L394.0 407.60 L394.5 407.58 L395.0 407.57 L395.5 407.57 L396.0 407.57 L396.5 407.57 L397.0 407.58 L397.5 407.60 L398.0 407.61 L398.5 407.62 L399.0 407.63 L399.5 407.64 L400.0 407.65 L400.5 407.65 L401.0 407.66 L401.5 407.66 L402.0 407.66 L402.5 407.66 L403.0 407.66 L403.5 407.66 L404.0 407.67 L404.5 407.68 L405.0 407.68 L405.5 407.69 L406.0 407.70 L406.5 407.71 L407.0 407.72 L407.5 407.73 L408.0 407.74 L408.5 407.75 L409.0 407.77 L409.5 407.79 L410.0 407.81 L410.5 407.83 L411.0 407.85 L411.5 407.87 L412.0 407.89 L412.5 407.90 L413.0 407.91 L413.5 407.91 L414.0 407.90 L414.5 407.89 L415.0 407.87 L415.5 407.85 L416.0 407.83 L416.5 407.82 L417.0 407.81 L417.5 407.80 L418.0 407.80 L418.5 407.80 L419.0 407.81 L419.5 407.82 L420.0 407.82 L420.5 407.82 L421.0 407.82 L421.5 407.80 L422.0 407.79 L422.5 407.77 L423.0 407.74 L423.5 407.72 L424.0 407.69 L424.5 407.67 L425.0 407.65 L425.5 407.63 L426.0 407.62 L426.5 407.62 L427.0 407.62 L427.5 407.62 L428.0 407.63 L428.5 407.64 L429.0 407.65 L429.5 407.66 L430.0 407.67 L430.5 407.69 L431.0 407.70 L431.5 407.71 L432.0 407.72 L432.5 407.73 L433.0 407.74 L433.5 407.74 L434.0 407.75 L434.5 407.74 L435.0 407.74 L435.5 407.73 L436.0 407.72 L436.5 407.71 L437.0 407.70 L437.5 407.69 L438.0 407.68 L438.5 407.67 L439.0 407.66 L439.5 407.66 L440.0 407.67 L440.5 407.67 L441.0 407.68 L441.5 407.69 L442.0 407.70 L442.5 407.72 L443.0 407.73 L443.5 407.75 L444.0 407.76 L444.5 407.78 L445.0 407.80 L445.5 407.82 L446.0 407.84 L446.5 407.85 L447.0 407.87 L447.5 407.89 L448.0 407.90 L448.5 407.92 L449.0 407.93 L449.5 407.94 L450.0 407.95 L450.5 407.95 L451.0 407.95 L451.5 407.95 L452.0 407.95 L452.5 407.95 L453.0 407.94 L453.5 407.94 L454.0 407.95 L454.5 407.95 L455.0 407.95 L455.5 407.95 L456.0 407.96 L456.5 407.96 L457.0 407.96 L457.5 407.96 L458.0 407.96 L458.5 407.95 L459.0 407.94 L459.5 407.94 L460.0 407.92 L460.5 407.91 L461.0 407.90 L461.5 407.88 L462.0 407.87 L462.5 407.85 L463.0 407.84 L463.5 407.83 L464.0 407.83 L464.5 407.83 L465.0 407.83 L465.5 407.83 L466.0 407.83 L466.5 407.82 L467.0 407.81 L467.5 407.79 L468.0 407.76 L468.5 407.73 L469.0 407.70 L469.5 407.66 L470.0 407.63 L470.5 407.61 L471.0 407.60 L471.5 407.60 L472.0 407.61 L472.5 407.63 L473.0 407.66 L473.5 407.69 L474.0 407.72 L474.5 407.75 L475.0 407.78 L475.5 407.80 L476.0 407.81 L476.5 407.81 L477.0 407.81 L477.5 407.80 L478.0 407.78 L478.5 407.77 L479.0 407.75 L479.5 407.74 L480.0 407.73 L480.5 407.72 L481.0 407.72 L481.5 407.72 L482.0 407.73 L482.5 407.73 L483.0 407.74 L483.5 407.75 L484.0 407.76 L484.5 407.77 L485.0 407.77 L485.5 407.78 L486.0 407.78 L486.5 407.77 L487.0 407.77 L487.5 407.76 L488.0 407.76 L488.5 407.75 L489.0 407.75 L489.5 407.75 L490.0 407.75 L490.5 407.75 L491.0 407.75 L491.5 407.75 L492.0 407.74 L492.5 407.74 L493.0 407.73 L493.5 407.71 L494.0 407.70 L494.5 407.69 L495.0 407.67 L495.5 407.67 L496.0 407.67" stroke="#1c40cc"/>
<path d="M57.5 384.17 L58.0 384.15 L58.5 384.12 L59.0 384.09 L59.5 384.06 L60.0 384.04 L60.5 384.01 L61.0 383.99 L61.5 383.97 L62.0 383.95 L62.5 383.94 L63.0 383.92 L63.5 383.90 L64.0 383.88 L64.5 383.86 L65.0 383.83 L65.5 383.80 L66.0 383.77 L66.5 383.74 L67.0 383.72 L67.5 383.70 L68.0 383.68 L68.5 383.67 L69.0 383.66 L69.5 383.65 L70.0 383.64 L70.5 383.62 L71.0 383.61 L71.5 383.58 L72.0 383.56 L72.5 383.52 L73.0 383.48 L73.5 383.44 L74.0 383.40 L74.5 383.36 L75.0 383.33 L75.5 383.30 L76.0 383.27 L76.5 383.26 L77.0 383.25 L77.5 383.24 L78.0 383.24 L78.5 383.24 L79.0 383.24 L79.5 383.24 L80.0 383.23 L80.5 383.22 L81.0 383.20 L81.5 383.17 L82.0 383.14 L82.5 383.11 L83.0 383.08 L83.5 383.05 L84.0 383.02 L84.5 383.00 L85.0 382.98 L85.5 382.97 L86.0 382.96 L86.5 382.96 L87.0 382.96 L87.5 382.96 L88.0 382.96 L88.5 382.96 L89.0 382.96 L89.5 382.96 L90.0 382.96 L90.5 382.96 L91.0 382.95 L91.5 382.95 L92.0 382.94 L92.5 382.94 L93.0 382.93 L93.5 382.92 L94.0 382.92 L94.5 382.91 L95.0 382.90 L95.5 382.89 L96.0 382.89 L96.5 382.88 L97.0 382.87 L97.5 382.87 L98.0 382.86 L98.5 382.85 L99.0 382.83 L99.5 382.81 L100.0 382.79 L100.5 382.77 L101.0 382.75 L101.5 382.73 L102.0 382.71 L102.5 382.68 L103.0 382.67 L103.5 382.66 L104.0 382.65 L104.5 382.66 L105.0 382.67 L105.5 382.70 L106.0 382.72 L106.5 382.75 L107.0 382.78 L107.5 382.81 L108.0 382.84 L108.5 382.85 L109.0 382.86 L109.5 382.86 L110.0 382.86 L110.5 382.85 L111.0 382.84 L111.5 382.82 L112.0 382.81 L112.5 382.79 L113.0 382.78 L113.5 382.76 L114.0 382.75 L114.5 382.74 L115.0 382.74 L115.5 382.74 L116.0 382.75 L116.5 382.77 L117.0 382.79 L117.5 382.82 L118.0 382.84 L118.5 382.87 L119.0 382.89 L119.5 382.91 L120.0 382.93 L120.5 382.94 L121.0 382.94 L121.5 382.94 L122.0 382.93 L122.5 382.92 L123.0 382.91 L123.5 382.90 L124.0 382.89 L124.5 382.88 L125.0 382.87 L125.5 382.87 L126.0 382.87 L126.5 382.87 L127.0 382.87 L127.5 382.88 L128.0 382.89 L128.5 382.90 L129.0 382.91 L129.5 382.93 L130.0 382.95 L130.5 382.98 L131.0 383.00 L131.5 383.03 L132.0 383.05 L132.5 383.08 L133.0 383.10 L133.5 383.13 L134.0 383.16 L134.5 383.18 L135.0 383.21 L135.5 383.22 L136.0 383.24 L136.5 383.25 L137.0 383.25 L137.5 383.25 L138.0 383.25 L138.5 383.24 L139.0 383.23 L139.5 383.21 L140.0 383.20 L140.5 383.18 L141.0 383.15 L141.5 383.13 L142.0 383.11 L142.5 383.09 L143.0 383.07 L143.5 383.05 L144.0 383.03 L144.5 383.02 L145.0 383.02 L145.5 383.02 L146.0 383.02 L146.5 383.03 L147.0 383.05 L147.5 383.07 L148.0 383.10 L148.5 383.13 L149.0 383.17 L149.5 383.20 L150.0 383.24 L150.5 383.27 L151.0 383.30 L151.5 383.33 L152.0 383.35 L152.5 383.37 L153.0 383.37 L153.5 383.38 L154.0 383.37 L154.5 383.36 L155.0 383.35 L155.5 383.33 L156.0 383.31 L156.5 383.29 L157.0 383.26 L157.5 383.23 L158.0 383.20 L158.5 383.17 L159.0 383.14 L159.5 383.12 L160.0 383.10 L160.5 383.08 L161.0 383.07 L161.5 383.07 L162.0 383.07 L162.5 383.08 L163.0 383.09 L163.5 383.09 L164.0 383.10 L164.5 383.11 L165.0 383.12 L165.5 383.13 L166.0 383.14 L166.5 383.16 L167.0 383.17 L167.5 383.19 L168.0 383.21 L168.5 383.23 L169.0 383.25 L169.5 383.27 L170.0 383.29 L170.5 383.31 L171.0 383.32 L171.5 383.34 L172.0 383.35 L172.5 383.36 L173.0 383.38 L173.5 383.39 L174.0 383.40 L174.5 383.42 L175.0 383.43 L175.5 383.43 L176.0 383.43 L176.5 383.43 L177.0 383.43 L177.5 383.42 L178.0 383.42 L178.5 383.41 L179.0 383.41 L179.5 383.41 L180.0 383.43 L180.5 383.43 L181.0 383.45 L181.5 383.47 L182.0 383.49 L182.5 383.51 L183.0 383.53 L183.5 383.55 L184.0 383.56 L184.5 383.57 L185.0 383.57 L185.5 383.56 L186.0 383.55 L186.5 383.53 L187.0 383.52 L187.5 383.49 L188.0 383.47 L188.5 383.45 L189.0 383.43 L189.5 383.41 L190.0 383.40 L190.5 383.39 L191.0 383.38 L191.5 383.38 L192.0 383.37 L192.5 383.38 L193.0 383.38 L193.5 383.38 L194.0 383.39 L194.5 383.39 L195.0 383.39 L195.5 383.39 L196.0 383.39 L196.5 383.39 L197.0 383.39 L197.5 383.39 L198.0 383.39 L198.5 383.39 L199.0 383.40 L199.5 383.41 L200.0 383.43 L200.5 383.45 L201.0 383.47 L201.5 383.49 L202.0 383.51 L202.5 383.52 L203.0 383.53 L203.5 383.53 L204.0 383.53 L204.5 383.52 L205.0 383.50 L205.5 383.48 L206.0 383.46 L206.5 383.43 L207.0 383.40 L207.5 383.38 L208.0 383.36 L208.5 383.35 L209.0 383.35 L209.5 383.36 L210.0 383.37 L210.5 383.39 L211.0 383.41 L211.5 383.43 L212.0 383.44 L212.5 383.45 L213.0 383.45 L213.5 383.44 L214.0 383.43 L214.5 383.41 L215.0 383.38 L215.5 383.36 L216.0 383.33 L216.5 383.31 L217.0 383.29 L217.5 383.27 L218.0 383.26 L218.5 383.25 L219.0 383.24 L219.5 383.24 L220.0 383.24 L220.5 383.25 L221.0 383.25 L221.5 383.26 L222.0 383.27 L222.5 383.28 L223.0 383.28 L223.5 383.28 L224.0 383.28 L224.5 383.27 L225.0 383.27 L225.5 383.25 L226.0 383.24 L226.5 383.23 L227.0 383.22 L227.5 383.21 L228.0 383.20 L228.5 383.19 L229.0 383.19 L229.5 383.18 L230.0 383.17 L230.5 383.17 L231.0 383.16 L231.5 383.16 L232.0 383.15 L232.5 383.15 L233.0 383.16 L233.5 383.16 L234.0 383.17 L234.5 383.17 L235.0 383.18 L235.5 383.18 L236.0 383.19 L236.5 383.18 L237.0 383.18 L237.5 383.17 L238.0 383.16 L238.5 383.15 L239.0 383.14 L239.5 383.14 L240.0 383.14 L240.5 383.14 L241.0 383.14 L241.5 383.15 L242.0 383.15 L242.5 383.16 L243.0 383.16 L243.5 383.16 L244.0 383.16 L244.5 383.15 L245.0 383.14 L245.5 383.14 L246.0 383.13 L246.5 383.13 L247.0 383.13 L247.5 383.14 L248.0 383.15 L248.5 383.16 L249.0 383.16 L249.5 383.17 L250.0 383.17 L250.5 383.17 L251.0 383.16 L251.5 383.15 L252.0 383.14 L252.5 383.13 L253.0 383.12 L253.5 383.11 L254.0 383.10 L254.5 383.09 L255.0 383.08 L255.5 383.08 L256.0 383.07 L256.5 383.07 L257.0 383.06 L257.5 383.06 L258.0 383.05 L258.5 383.05 L259.0 383.05 L259.5 383.04 L260.0 383.04 L260.5 383.05 L261.0 383.05 L261.5 383.06 L262.0 383.07 L262.5 383.09 L263.0 383.10 L263.5 383.11 L264.0 383.12 L264.5 383.12 L265.0 383.12 L265.5 383.12 L266.0 383.11 L266.5 383.10 L267.0 383.09 L267.5 383.08 L268.0 383.07 L268.5 383.07 L269.0 383.07 L269.5 383.07 L270.0 383.08 L270.5 383.09 L271.0 383.11 L271.5 383.12 L272.0 383.13 L272.5 383.14 L273.0 383.15 L273.5 383.15 L274.0 383.15 L274.5 383.15 L275.0 383.15 L275.5 383.14 L276.0 383.13 L276.5 383.12 L277.0 383.10 L277.5 383.08 L278.0 383.05 L278.5 383.02 L279.0 382.98 L279.5 382.94 L280.0 382.90 L280.5 382.86 L281.0 382.82 L281.5 382.79 L282.0 382.76 L282.5 382.74 L283.0 382.73 L283.5 382.72 L284.0 382.71 L284.5 382.71 L285.0 382.71 L285.5 382.71 L286.0 382.71 L286.5 382.71 L287.0 382.70 L287.5 382.70 L288.0 382.69 L288.5 382.68 L289.0 382.67 L289.5 382.66 L290.0 382.65 L290.5 382.64 L291.0 382.64 L291.5 382.64 L292.0 382.64 L292.5 382.65 L293.0 382.66 L293.5 382.67 L294.0 382.69 L294.5 382.71 L295.0 382.73 L295.5 382.75 L296.0 382.76 L296.5 382.77 L297.0 382.77 L297.5 382.77 L298.0 382.76 L298.5 382.74 L299.0 382.73 L299.5 382.71 L300.0 382.69 L300.5 382.68 L301.0 382.68 L301.5 382.68 L302.0 382.69 L302.5 382.70 L303.0 382.71 L303.5 382.73 L304.0 382.74 L304.5 382.75 L305.0 382.76 L305.5 382.77 L306.0 382.77 L306.5 382.77 L307.0 382.78 L307.5 382.78 L308.0 382.77 L308.5 382.77 L309.0 382.77 L309.5 382.76 L310.0 382.75 L310.5 382.74 L311.0 382.73 L311.5 382.73 L312.0 382.72 L312.5 382.71 L313.0 382.71 L313.5 382.72 L314.0 382.72 L314.5 382.73 L315.0 382.74 L315.5 382.74 L316.0 382.75 L316.5 382.75 L317.0 382.74 L317.5 382.73 L318.0 382.72 L318.5 382.71 L319.0 382.70 L319.5 382.69 L320.0 382.68 L320.5 382.68 L321.0 382.68 L321.5 382.68 L322.0 382.69 L322.5 382.69 L323.0 382.70 L323.5 382.71 L324.0 382.73 L324.5 382.74 L325.0 382.75 L325.5 382.76 L326.0 382.77 L326.5 382.78 L327.0 382.79 L327.5 382.80 L328.0 382.81 L328.5 382.82 L329.0 382.83 L329.5 382.84 L330.0 382.84 L330.5 382.85 L331.0 382.85 L331.5 382.85 L332.0 382.84 L332.5 382.84 L333.0 382.83 L333.5 382.81 L334.0 382.80 L334.5 382.79 L335.0 382.78 L335.5 382.77 L336.0 382.77 L336.5 382.78 L337.0 382.79 L337.5 382.80 L338.0 382.82 L338.5 382.85 L339.0 382.87 L339.5 382.90 L340.0 382.92 L340.5 382.94 L341.0 382.96 L341.5 382.97 L342.0 382.98 L342.5 382.99 L343.0 382.99 L343.5 383.00 L344.0 383.00 L344.5 383.00 L345.0 383.00 L345.5 383.01 L346.0 383.01 L346.5 383.01 L347.0 383.02 L347.5 383.02 L348.0 383.03 L348.5 383.03 L349.0 383.04 L349.5 383.04 L350.0 383.04 L350.5 383.04 L351.0 383.05 L351.5 383.04 L352.0 383.05 L352.5 383.05 L353.0 383.05 L353.5 383.06 L354.0 383.06 L354.5 383.07 L355.0 383.08 L355.5 383.10 L356.0 383.10 L356.5 383.11 L357.0 383.11 L357.5 383.11 L358.0 383.10 L358.5 383.10 L359.0 383.09 L359.5 383.08 L360.0 383.07 L360.5 383.07 L361.0 383.06 L361.5 383.06 L362.0 383.06 L362.5 383.06 L363.0 383.06 L363.5 383.05 L364.0 383.04 L364.5 383.03 L365.0 383.01 L365.5 382.99 L366.0 382.97 L366.5 382.94 L367.0 382.91 L367.5 382.89 L368.0 382.86 L368.5 382.84 L369.0 382.82 L369.5 382.81 L370.0 382.81 L370.5 382.81 L371.0 382.81 L371.5 382.82 L372.0 382.84 L372.5 382.86 L373.0 382.88 L373.5 382.91 L374.0 382.93 L374.5 382.96 L375.0 382.98 L375.5 383.01 L376.0 383.02 L376.5 383.03 L377.0 383.04 L377.5 383.04 L378.0 383.04 L378.5 383.03 L379.0 383.01 L379.5 383.00 L380.0 382.99 L380.5 382.97 L381.0 382.96 L381.5 382.95 L382.0 382.95 L382.5 382.95 L383.0 382.95 L383.5 382.95 L384.0 382.95 L384.5 382.96 L385.0 382.97 L385.5 382.98 L386.0 382.98 L386.5 382.99 L387.0 383.00 L387.5 383.01 L388.0 383.01 L388.5 383.02 L389.0 383.03 L389.5 383.03 L390.0 383.03 L390.5 383.03 L391.0 383.03 L391.5 383.03 L392.0 383.02 L392.5 383.01 L393.0 383.00 L393.5 382.98 L394.0 382.97 L394.5 382.96 L395.0 382.94 L395.5 382.93 L396.0 382.93 L396.5 382.92 L397.0 382.93 L397.5 382.93 L398.0 382.94 L398.5 382.96 L399.0 382.98 L399.5 383.00 L400.0 383.03 L400.5 383.06 L401.0 383.09 L401.5 383.12 L402.0 383.15 L402.5 383.17 L403.0 383.18 L403.5 383.19 L404.0 383.19 L404.5 383.18 L405.0 383.17 L405.5 383.15 L406.0 383.12 L406.5 383.09 L407.0 383.06 L407.5 383.03 L408.0 383.01 L408.5 382.99 L409.0 382.97 L409.5 382.96 L410.0 382.94 L410.5 382.93 L411.0 382.92 L411.5 382.90 L412.0 382.89 L412.5 382.87 L413.0 382.86 L413.5 382.85 L414.0 382.85 L414.5 382.85 L415.0 382.86 L415.5 382.88 L416.0 382.90 L416.5 382.92 L417.0 382.94 L417.5 382.96 L418.0 382.97 L418.5 382.98 L419.0 382.99 L419.5 383.00 L420.0 383.00 L420.5 382.99 L421.0 382.98 L421.5 382.97 L422.0 382.95 L422.5 382.94 L423.0 382.91 L423.5 382.89 L424.0 382.88 L424.5 382.86 L425.0 382.85 L425.5 382.84 L426.0 382.85 L426.5 382.85 L427.0 382.86 L427.5 382.88 L428.0 382.90 L428.5 382.91 L429.0 382.93 L429.5 382.95 L430.0 382.96 L430.5 382.97 L431.0 382.98 L431.5 382.98 L432.0 382.98 L432.5 382.98 L433.0 382.98 L433.5 382.97 L434.0 382.97 L434.5 382.96 L435.0 382.96 L435.5 382.95 L436.0 382.94 L436.5 382.94 L437.0 382.93 L437.5 382.93 L438.0 382.92 L438.5 382.92 L439.0 382.91 L439.5 382.90 L440.0 382.90 L440.5 382.89 L441.0 382.88 L441.5 382.87 L442.0 382.87 L442.5 382.86 L443.0 382.86 L443.5 382.86 L444.0 382.86 L444.5 382.86 L445.0 382.86 L445.5 382.87 L446.0 382.87 L446.5 382.88 L447.0 382.88 L447.5 382.89 L448.0 382.90 L448.5 382.91 L449.0 382.92 L449.5 382.94 L450.0 382.95 L450.5 382.97 L451.0 382.99 L451.5 383.00 L452.0 383.02 L452.5 383.03 L453.0 383.05 L453.5 383.06 L454.0 383.07 L454.5 383.08 L455.0 383.08 L455.5 383.09 L456.0 383.08 L456.5 383.08 L457.0 383.07 L457.5 383.06 L458.0 383.04 L458.5 383.03 L459.0 383.02 L459.5 383.00 L460.0 382.99 L460.5 382.99 L461.0 382.99 L461.5 382.99 L462.0 383.00 L462.5 383.02 L463.0 383.03 L463.5 383.05 L464.0 383.07 L464.5 383.09 L465.0 383.10 L465.5 383.11 L466.0 383.12 L466.5 383.12 L467.0 383.12 L467.5 383.11 L468.0 383.09 L468.5 383.07 L469.0 383.05 L469.5 383.02 L470.0 382.99 L470.5 382.96 L471.0 382.93 L471.5 382.90 L472.0 382.88 L472.5 382.85 L473.0 382.83 L473.5 382.81 L474.0 382.79 L474.5 382.78 L475.0 382.77 L475.5 382.76 L476.0 382.76 L476.5 382.76 L477.0 382.76 L477.5 382.77 L478.0 382.78 L478.5 382.79 L479.0 382.81 L479.5 382.84 L480.0 382.86 L480.5 382.89 L481.0 382.92 L481.5 382.95 L482.0 382.97 L482.5 382.99 L483.0 383.01 L483.5 383.01 L484.0 383.02 L484.5 383.02 L485.0 383.02 L485.5 383.01 L486.0 383.01 L486.5 383.02 L487.0 383.02 L487.5 383.03 L488.0 383.03 L488.5 383.04 L489.0 383.05 L489.5 383.06 L490.0 383.06 L490.5 383.06 L491.0 383.06 L491.5 383.05 L492.0 383.04 L492.5 383.02 L493.0 383.01 L493.5 382.99 L494.0 382.98 L494.5 382.98 L495.0 382.98 L495.5 382.98 L496.0 382.99" stroke="#2080d8"/>
<path d="M57.5 358.98 L58.0 358.96 L58.5 358.93 L59.0 358.91 L59.5 358.88 L60.0 358.86 L60.5 358.84 L61.0 358.82 L61.5 358.80 L62.0 358.79 L62.5 358.78 L63.0 358.78 L63.5 358.77 L64.0 358.76 L64.5 358.76 L65.0 358.75 L65.5 358.73 L66.0 358.72 L66.5 358.70 L67.0 358.68 L67.5 358.66 L68.0 358.63 L68.5 358.59 L69.0 358.55 L69.5 358.50 L70.0 358.45 L70.5 358.39 L71.0 358.32 L71.5 358.26 L72.0 358.20 L72.5 358.14 L73.0 358.08 L73.5 358.03 L74.0 357.98 L74.5 357.93 L75.0 357.89 L75.5 357.85 L76.0 357.81 L76.5 357.77 L77.0 357.73 L77.5 357.69 L78.0 357.66 L78.5 357.63 L79.0 357.60 L79.5 357.57 L80.0 357.54 L80.5 357.52 L81.0 357.50 L81.5 357.48 L82.0 357.46 L82.5 357.43 L83.0 357.41 L83.5 357.38 L84.0 357.35 L84.5 357.32 L85.0 357.29 L85.5 357.25 L86.0 357.22 L86.5 357.18 L87.0 357.14 L87.5 357.11 L88.0 357.07 L88.5 357.04 L89.0 357.01 L89.5 356.99 L90.0 356.97 L90.5 356.95 L91.0 356.94 L91.5 356.92 L92.0 356.91 L92.5 356.89 L93.0 356.87 L93.5 356.84 L94.0 356.81 L94.5 356.78 L95.0 356.75 L95.5 356.71 L96.0 356.68 L96.5 356.64 L97.0 356.61 L97.5 356.58 L98.0 356.54 L98.5 356.51 L99.0 356.48 L99.5 356.44 L100.0 356.41 L100.5 356.42 L101.0 356.42 L101.5 356.43 L102.0 356.44 L102.5 356.44 L103.0 356.45 L103.5 356.46 L104.0 356.47 L104.5 356.49 L105.0 356.50 L105.5 356.52 L106.0 356.55 L106.5 356.57 L107.0 356.60 L107.5 356.63 L108.0 356.65 L108.5 356.68 L109.0 356.70 L109.5 356.72 L110.0 356.73 L110.5 356.75 L111.0 356.76 L111.5 356.76 L112.0 356.77 L112.5 356.78 L113.0 356.78 L113.5 356.78 L114.0 356.79 L114.5 356.79 L115.0 356.80 L115.5 356.80 L116.0 356.80 L116.5 356.81 L117.0 356.81 L117.5 356.81 L118.0 356.80 L118.5 356.80 L119.0 356.79 L119.5 356.79 L120.0 356.78 L120.5 356.78 L121.0 356.78 L121.5 356.79 L122.0 356.80 L122.5 356.81 L123.0 356.83 L123.5 356.85 L124.0 356.88 L124.5 356.91 L125.0 356.94 L125.5 356.96 L126.0 356.99 L126.5 357.01 L127.0 357.03 L127.5 357.05 L128.0 357.06 L128.5 357.08 L129.0 357.09 L129.5 357.10 L130.0 357.11 L130.5 357.12 L131.0 357.13 L131.5 357.13 L132.0 357.13 L132.5 357.11 L133.0 357.10 L133.5 357.07 L134.0 357.05 L134.5 357.02 L135.0 357.00 L135.5 356.98 L136.0 356.97 L136.5 356.97 L137.0 356.98 L137.5 357.00 L138.0 357.03 L138.5 357.06 L139.0 357.10 L139.5 357.13 L140.0 357.17 L140.5 357.20 L141.0 357.22 L141.5 357.23 L142.0 357.24 L142.5 357.25 L143.0 357.25 L143.5 357.26 L144.0 357.27 L144.5 357.28 L145.0 357.30 L145.5 357.32 L146.0 357.34 L146.5 357.36 L147.0 357.38 L147.5 357.39 L148.0 357.40 L148.5 357.41 L149.0 357.41 L149.5 357.42 L150.0 357.42 L150.5 357.43 L151.0 357.43 L151.5 357.44 L152.0 357.44 L152.5 357.45 L153.0 357.46 L153.5 357.46 L154.0 357.47 L154.5 357.47 L155.0 357.47 L155.5 357.47 L156.0 357.47 L156.5 357.48 L157.0 357.48 L157.5 357.48 L158.0 357.49 L158.5 357.49 L159.0 357.49 L159.5 357.50 L160.0 357.50 L160.5 357.50 L161.0 357.50 L161.5 357.50 L162.0 357.50 L162.5 357.49 L163.0 357.49 L163.5 357.49 L164.0 357.49 L164.5 357.49 L165.0 357.49 L165.5 357.49 L166.0 357.49 L166.5 357.49 L167.0 357.50 L167.5 357.51 L168.0 357.52 L168.5 357.53 L169.0 357.55 L169.5 357.57 L170.0 357.59 L170.5 357.61 L171.0 357.64 L171.5 357.66 L172.0 357.68 L172.5 357.69 L173.0 357.70 L173.5 357.71 L174.0 357.71 L174.5 357.70 L175.0 357.70 L175.5 357.69 L176.0 357.69 L176.5 357.69 L177.0 357.70 L177.5 357.71 L178.0 357.72 L178.5 357.73 L179.0 357.75 L179.5 357.77 L180.0 357.79 L180.5 357.81 L181.0 357.82 L181.5 357.84 L182.0 357.85 L182.5 357.86 L183.0 357.88 L183.5 357.89 L184.0 357.89 L184.5 357.90 L185.0 357.91 L185.5 357.91 L186.0 357.91 L186.5 357.90 L187.0 357.89 L187.5 357.88 L188.0 357.86 L188.5 357.84 L189.0 357.82 L189.5 357.80 L190.0 357.79 L190.5 357.78 L191.0 357.77 L191.5 357.77 L192.0 357.78 L192.5 357.79 L193.0 357.81 L193.5 357.83 L194.0 357.85 L194.5 357.88 L195.0 357.90 L195.5 357.91 L196.0 357.93 L196.5 357.94 L197.0 357.94 L197.5 357.95 L198.0 357.95 L198.5 357.96 L199.0 357.96 L199.5 357.97 L200.0 357.98 L200.5 357.98 L201.0 357.99 L201.5 357.99 L202.0 358.00 L202.5 358.00 L203.0 358.00 L203.5 358.00 L204.0 358.00 L204.5 358.00 L205.0 358.00 L205.5 358.00 L206.0 358.01 L206.5 358.02 L207.0 358.03 L207.5 358.04 L208.0 358.04 L208.5 358.05 L209.0 358.05 L209.5 358.05 L210.0 358.05 L210.5 358.04 L211.0 358.04 L211.5 358.03 L212.0 358.01 L212.5 358.00 L213.0 357.99 L213.5 357.98 L214.0 357.96 L214.5 357.95 L215.0 357.95 L215.5 357.94 L216.0 357.93 L216.5 357.93 L217.0 357.92 L217.5 357.92 L218.0 357.91 L218.5 357.91 L219.0 357.91 L219.5 357.91 L220.0 357.91 L220.5 357.92 L221.0 357.94 L221.5 357.96 L222.0 357.98 L222.5 358.00 L223.0 358.02 L223.5 358.04 L224.0 358.06 L224.5 358.08 L225.0 358.09 L225.5 358.09 L226.0 358.10 L226.5 358.10 L227.0 358.10 L227.5 358.11 L228.0 358.11 L228.5 358.12 L229.0 358.12 L229.5 358.13 L230.0 358.14 L230.5 358.14 L231.0 358.15 L231.5 358.16 L232.0 358.16 L232.5 358.17 L233.0 358.18 L233.5 358.19 L234.0 358.20 L234.5 358.22 L235.0 358.23 L235.5 358.25 L236.0 358.26 L236.5 358.28 L237.0 358.29 L237.5 358.31 L238.0 358.32 L238.5 358.33 L239.0 358.33 L239.5 358.34 L240.0 358.34 L240.5 358.34 L241.0 358.34 L241.5 358.34 L242.0 358.34 L242.5 358.34 L243.0 358.34 L243.5 358.34 L244.0 358.34 L244.5 358.33 L245.0 358.32 L245.5 358.31 L246.0 358.30 L246.5 358.28 L247.0 358.27 L247.5 358.25 L248.0 358.24 L248.5 358.22 L249.0 358.21 L249.5 358.20 L250.0 358.20 L250.5 358.21 L251.0 358.22 L251.5 358.24 L252.0 358.26 L252.5 358.29 L253.0 358.32 L253.5 358.35 L254.0 358.37 L254.5 358.40 L255.0 358.42 L255.5 358.44 L256.0 358.46 L256.5 358.47 L257.0 358.48 L257.5 358.48 L258.0 358.48 L258.5 358.47 L259.0 358.46 L259.5 358.45 L260.0 358.44 L260.5 358.44 L261.0 358.44 L261.5 358.44 L262.0 358.45 L262.5 358.46 L263.0 358.47 L263.5 358.49 L264.0 358.50 L264.5 358.50 L265.0 358.51 L265.5 358.51 L266.0 358.51 L266.5 358.51 L267.0 358.51 L267.5 358.50 L268.0 358.50 L268.5 358.49 L269.0 358.48 L269.5 358.48 L270.0 358.48 L270.5 358.48 L271.0 358.49 L271.5 358.49 L272.0 358.51 L272.5 358.52 L273.0 358.54 L273.5 358.56 L274.0 358.57 L274.5 358.59 L275.0 358.60 L275.5 358.61 L276.0 358.61 L276.5 358.61 L277.0 358.60 L277.5 358.59 L278.0 358.58 L278.5 358.56 L279.0 358.54 L279.5 358.53 L280.0 358.51 L280.5 358.50 L281.0 358.50 L281.5 358.49 L282.0 358.49 L282.5 358.49 L283.0 358.49 L283.5 358.49 L284.0 358.49 L284.5 358.49 L285.0 358.48 L285.5 358.48 L286.0 358.46 L286.5 358.45 L287.0 358.43 L287.5 358.41 L288.0 358.39 L288.5 358.37 L289.0 358.36 L289.5 358.35 L290.0 358.34 L290.5 358.34 L291.0 358.34 L291.5 358.35 L292.0 358.36 L292.5 358.38 L293.0 358.40 L293.5 358.42 L294.0 358.44 L294.5 358.46 L295.0 358.49 L295.5 358.51 L296.0 358.54 L296.5 358.57 L297.0 358.59 L297.5 358.62 L298.0 358.64 L298.5 358.66 L299.0 358.68 L299.5 358.70 L300.0 358.72 L300.5 358.73 L301.0 358.74 L301.5 358.75 L302.0 358.76 L302.5 358.77 L303.0 358.77 L303.5 358.77 L304.0 358.77 L304.5 358.76 L305.0 358.75 L305.5 358.74 L306.0 358.72 L306.5 358.70 L307.0 358.68 L307.5 358.66 L308.0 358.64 L308.5 358.62 L309.0 358.61 L309.5 358.60 L310.0 358.59 L310.5 358.60 L311.0 358.60 L311.5 358.60 L312.0 358.61 L312.5 358.62 L313.0 358.62 L313.5 358.62 L314.0 358.61 L314.5 358.60 L315.0 358.59 L315.5 358.58 L316.0 358.57 L316.5 358.56 L317.0 358.55 L317.5 358.56 L318.0 358.56 L318.5 358.57 L319.0 358.59 L319.5 358.61 L320.0 358.63 L320.5 358.64 L321.0 358.65 L321.5 358.66 L322.0 358.66 L322.5 358.66 L323.0 358.65 L323.5 358.64 L324.0 358.63 L324.5 358.62 L325.0 358.60 L325.5 358.58 L326.0 358.56 L326.5 358.53 L327.0 358.52 L327.5 358.50 L328.0 358.49 L328.5 358.49 L329.0 358.49 L329.5 358.50 L330.0 358.51 L330.5 358.53 L331.0 358.54 L331.5 358.55 L332.0 358.56 L332.5 358.56 L333.0 358.56 L333.5 358.56 L334.0 358.56 L334.5 358.56 L335.0 358.56 L335.5 358.57 L336.0 358.58 L336.5 358.59 L337.0 358.61 L337.5 358.63 L338.0 358.65 L338.5 358.67 L339.0 358.69 L339.5 358.72 L340.0 358.74 L340.5 358.76 L341.0 358.78 L341.5 358.80 L342.0 358.82 L342.5 358.83 L343.0 358.84 L343.5 358.85 L344.0 358.86 L344.5 358.87 L345.0 358.87 L345.5 358.88 L346.0 358.88 L346.5 358.88 L347.0 358.88 L347.5 358.88 L348.0 358.88 L348.5 358.87 L349.0 358.85 L349.5 358.84 L350.0 358.82 L350.5 358.80 L351.0 358.78 L351.5 358.76 L352.0 358.75 L352.5 358.73 L353.0 358.73 L353.5 358.72 L354.0 358.72 L354.5 358.72 L355.0 358.73 L355.5 358.73 L356.0 358.74 L356.5 358.75 L357.0 358.76 L357.5 358.77 L358.0 358.79 L358.5 358.81 L359.0 358.83 L359.5 358.86 L360.0 358.88 L360.5 358.91 L361.0 358.93 L361.5 358.96 L362.0 358.97 L362.5 358.99 L363.0 359.00 L363.5 359.00 L364.0 359.00 L364.5 359.00 L365.0 359.00 L365.5 359.00 L366.0 358.99 L366.5 358.99 L367.0 358.99 L367.5 358.99 L368.0 358.99 L368.5 359.00 L369.0 359.01 L369.5 359.02 L370.0 359.03 L370.5 359.05 L371.0 359.06 L371.5 359.07 L372.0 359.07 L372.5 359.08 L373.0 359.07 L373.5 359.06 L374.0 359.05 L374.5 359.04 L375.0 359.02 L375.5 359.01 L376.0 358.99 L376.5 358.97 L377.0 358.95 L377.5 358.93 L378.0 358.91 L378.5 358.89 L379.0 358.87 L379.5 358.86 L380.0 358.85 L380.5 358.84 L381.0 358.83 L381.5 358.83 L382.0 358.83 L382.5 358.84 L383.0 358.85 L383.5 358.87 L384.0 358.89 L384.5 358.91 L385.0 358.94 L385.5 358.97 L386.0 358.99 L386.5 359.02 L387.0 359.04 L387.5 359.06 L388.0 359.08 L388.5 359.10 L389.0 359.11 L389.5 359.12 L390.0 359.12 L390.5 359.12 L391.0 359.11 L391.5 359.10 L392.0 359.08 L392.5 359.07 L393.0 359.05 L393.5 359.02 L394.0 359.00 L394.5 358.98 L395.0 358.95 L395.5 358.94 L396.0 358.92 L396.5 358.92 L397.0 358.92 L397.5 358.93 L398.0 358.95 L398.5 358.97 L399.0 359.00 L399.5 359.04 L400.0 359.07 L400.5 359.11 L401.0 359.14 L401.5 359.16 L402.0 359.17 L402.5 359.18 L403.0 359.19 L403.5 359.18 L404.0 359.17 L404.5 359.16 L405.0 359.15 L405.5 359.13 L406.0 359.12 L406.5 359.10 L407.0 359.08 L407.5 359.07 L408.0 359.06 L408.5 359.05 L409.0 359.04 L409.5 359.03 L410.0 359.03 L410.5 359.03 L411.0 359.03 L411.5 359.03 L412.0 359.03 L412.5 359.04 L413.0 359.04 L413.5 359.05 L414.0 359.06 L414.5 359.06 L415.0 359.07 L415.5 359.07 L416.0 359.07 L416.5 359.07 L417.0 359.07 L417.5 359.06 L418.0 359.05 L418.5 359.04 L419.0 359.03 L419.5 359.03 L420.0 359.03 L420.5 359.04 L421.0 359.05 L421.5 359.06 L422.0 359.08 L422.5 359.10 L423.0 359.13 L423.5 359.15 L424.0 359.18 L424.5 359.20 L425.0 359.22 L425.5 359.24 L426.0 359.26 L426.5 359.28 L427.0 359.30 L427.5 359.32 L428.0 359.33 L428.5 359.34 L429.0 359.34 L429.5 359.35 L430.0 359.35 L430.5 359.35 L431.0 359.35 L431.5 359.35 L432.0 359.35 L432.5 359.35 L433.0 359.35 L433.5 359.34 L434.0 359.33 L434.5 359.32 L435.0 359.31 L435.5 359.28 L436.0 359.26 L436.5 359.23 L437.0 359.20 L437.5 359.17 L438.0 359.14 L438.5 359.11 L439.0 359.09 L439.5 359.08 L440.0 359.07 L440.5 359.07 L441.0 359.08 L441.5 359.09 L442.0 359.11 L442.5 359.13 L443.0 359.14 L443.5 359.16 L444.0 359.16 L444.5 359.17 L445.0 359.16 L445.5 359.15 L446.0 359.14 L446.5 359.13 L447.0 359.11 L447.5 359.10 L448.0 359.09 L448.5 359.08 L449.0 359.08 L449.5 359.08 L450.0 359.08 L450.5 359.09 L451.0 359.11 L451.5 359.12 L452.0 359.14 L452.5 359.15 L453.0 359.16 L453.5 359.16 L454.0 359.17 L454.5 359.17 L455.0 359.17 L455.5 359.17 L456.0 359.17 L456.5 359.18 L457.0 359.19 L457.5 359.21 L458.0 359.22 L458.5 359.24 L459.0 359.26 L459.5 359.27 L460.0 359.29 L460.5 359.29 L461.0 359.30 L461.5 359.29 L462.0 359.29 L462.5 359.29 L463.0 359.29 L463.5 359.29 L464.0 359.29 L464.5 359.30 L465.0 359.31 L465.5 359.32 L466.0 359.33 L466.5 359.34 L467.0 359.35 L467.5 359.35 L468.0 359.35 L468.5 359.35 L469.0 359.35 L469.5 359.34 L470.0 359.34 L470.5 359.33 L471.0 359.33 L471.5 359.32 L472.0 359.32 L472.5 359.31 L473.0 359.31 L473.5 359.31 L474.0 359.31 L474.5 359.32 L475.0 359.32 L475.5 359.33 L476.0 359.33 L476.5 359.34 L477.0 359.34 L477.5 359.33 L478.0 359.32 L478.5 359.30 L479.0 359.29 L479.5 359.27 L480.0 359.25 L480.5 359.24 L481.0 359.23 L481.5 359.23 L482.0 359.23 L482.5 359.24 L483.0 359.25 L483.5 359.27 L484.0 359.28 L484.5 359.30 L485.0 359.31 L485.5 359.33 L486.0 359.33 L486.5 359.34 L487.0 359.34 L487.5 359.34 L488.0 359.34 L488.5 359.34 L489.0 359.34 L489.5 359.35 L490.0 359.37 L490.5 359.38 L491.0 359.40 L491.5 359.42 L492.0 359.44 L492.5 359.46 L493.0 359.47 L493.5 359.48 L494.0 359.48 L494.5 359.48 L495.0 359.47 L495.5 359.46 L496.0 359.44" stroke="#3ddcc0"/>
<path d="M98.5 218.44 L99.0 199.69 L99.5 183.70 L100.0 172.79 L100.5 168.63 L101.0 171.89 L101.5 182.01 L102.0 197.33 L102.5 215.68 L103.0 234.92Z" fill="#22e022" fill-opacity="0.75" stroke="none"/>
<path d="M57.5 334.78 L58.0 334.75 L58.5 334.72 L59.0 334.69 L59.5 334.66 L60.0 334.62 L60.5 334.59 L61.0 334.55 L61.5 334.51 L62.0 334.46 L62.5 334.41 L63.0 334.36 L63.5 334.31 L64.0 334.25 L64.5 334.19 L65.0 334.13 L65.5 334.07 L66.0 334.01 L66.5 333.95 L67.0 333.89 L67.5 333.83 L68.0 333.78 L68.5 333.73 L69.0 333.68 L69.5 333.64 L70.0 333.60 L70.5 333.56 L71.0 333.52 L71.5 333.49 L72.0 333.45 L72.5 333.42 L73.0 333.38 L73.5 333.34 L74.0 333.30 L74.5 333.26 L75.0 333.21 L75.5 333.16 L76.0 333.11 L76.5 333.05 L77.0 332.99 L77.5 332.92 L78.0 332.85 L78.5 332.78 L79.0 332.70 L79.5 332.61 L80.0 332.51 L80.5 332.40 L81.0 332.28 L81.5 332.15 L82.0 332.00 L82.5 331.85 L83.0 331.68 L83.5 331.49 L84.0 331.30 L84.5 331.09 L85.0 330.87 L85.5 330.66 L86.0 330.43 L86.5 330.18 L87.0 329.91 L87.5 329.60 L88.0 329.26 L88.5 328.88 L89.0 328.44 L89.5 327.94 L90.0 327.37 L90.5 326.70 L91.0 325.91 L91.5 324.97 L92.0 323.84 L92.5 322.46 L93.0 320.77 L93.5 318.64 L94.0 315.94 L94.5 312.45 L95.0 307.91 L95.5 301.93 L96.0 294.10 L96.5 283.94 L97.0 271.12 L97.5 255.56 L98.0 237.64 L98.5 218.44 L99.0 199.69 L99.5 183.70 L100.0 172.79 L100.5 168.63 L101.0 171.89 L101.5 182.01 L102.0 197.33 L102.5 215.68 L103.0 234.92 L103.5 253.17 L104.0 269.24 L104.5 282.61 L105.0 293.27 L105.5 301.53 L106.0 307.85 L106.5 312.66 L107.0 316.34 L107.5 319.20 L108.0 321.44 L108.5 323.23 L109.0 324.68 L109.5 325.87 L110.0 326.86 L110.5 327.69 L111.0 328.40 L111.5 329.00 L112.0 329.51 L112.5 329.96 L113.0 330.35 L113.5 330.69 L114.0 330.99 L114.5 331.26 L115.0 331.50 L115.5 331.72 L116.0 331.91 L116.5 332.08 L117.0 332.24 L117.5 332.39 L118.0 332.52 L118.5 332.64 L119.0 332.75 L119.5 332.86 L120.0 332.95 L120.5 333.03 L121.0 333.10 L121.5 333.15 L122.0 333.18 L122.5 333.17 L123.0 333.11 L123.5 332.98 L124.0 332.77 L124.5 332.50 L125.0 332.32 L125.5 332.39 L126.0 332.70 L126.5 333.05 L127.0 333.35 L127.5 333.57 L128.0 333.74 L128.5 333.87 L129.0 333.98 L129.5 334.07 L130.0 334.14 L130.5 334.21 L131.0 334.27 L131.5 334.31 L132.0 334.35 L132.5 334.39 L133.0 334.41 L133.5 334.44 L134.0 334.46 L134.5 334.47 L135.0 334.49 L135.5 334.50 L136.0 334.52 L136.5 334.53 L137.0 334.54 L137.5 334.55 L138.0 334.57 L138.5 334.58 L139.0 334.60 L139.5 334.62 L140.0 334.64 L140.5 334.66 L141.0 334.69 L141.5 334.72 L142.0 334.74 L142.5 334.77 L143.0 334.79 L143.5 334.81 L144.0 334.83 L144.5 334.84 L145.0 334.84 L145.5 334.85 L146.0 334.85 L146.5 334.85 L147.0 334.85 L147.5 334.85 L148.0 334.85 L148.5 334.86 L149.0 334.87 L149.5 334.88 L150.0 334.90 L150.5 334.91 L151.0 334.92 L151.5 334.93 L152.0 334.93 L152.5 334.93 L153.0 334.92 L153.5 334.91 L154.0 334.90 L154.5 334.88 L155.0 334.87 L155.5 334.85 L156.0 334.84 L156.5 334.82 L157.0 334.81 L157.5 334.81 L158.0 334.80 L158.5 334.80 L159.0 334.80 L159.5 334.79 L160.0 334.79 L160.5 334.79 L161.0 334.79 L161.5 334.78 L162.0 334.78 L162.5 334.78 L163.0 334.78 L163.5 334.78 L164.0 334.79 L164.5 334.80 L165.0 334.81 L165.5 334.82 L166.0 334.82 L166.5 334.83 L167.0 334.83 L167.5 334.84 L168.0 334.83 L168.5 334.83 L169.0 334.82 L169.5 334.81 L170.0 334.80 L170.5 334.79 L171.0 334.79 L171.5 334.79 L172.0 334.79 L172.5 334.80 L173.0 334.81 L173.5 334.83 L174.0 334.86 L174.5 334.89 L175.0 334.92 L175.5 334.95 L176.0 334.98 L176.5 335.00 L177.0 335.01 L177.5 335.01 L178.0 335.00 L178.5 334.98 L179.0 334.96 L179.5 334.93 L180.0 334.91 L180.5 334.88 L181.0 334.87 L181.5 334.86 L182.0 334.86 L182.5 334.87 L183.0 334.89 L183.5 334.91 L184.0 334.93 L184.5 334.94 L185.0 334.96 L185.5 334.96 L186.0 334.97 L186.5 334.96 L187.0 334.96 L187.5 334.95 L188.0 334.94 L188.5 334.94 L189.0 334.93 L189.5 334.93 L190.0 334.93 L190.5 334.92 L191.0 334.92 L191.5 334.92 L192.0 334.92 L192.5 334.91 L193.0 334.91 L193.5 334.90 L194.0 334.89 L194.5 334.88 L195.0 334.86 L195.5 334.84 L196.0 334.82 L196.5 334.79 L197.0 334.77 L197.5 334.73 L198.0 334.70 L198.5 334.66 L199.0 334.62 L199.5 334.58 L200.0 334.55 L200.5 334.52 L201.0 334.49 L201.5 334.47 L202.0 334.45 L202.5 334.43 L203.0 334.41 L203.5 334.39 L204.0 334.36 L204.5 334.33 L205.0 334.28 L205.5 334.23 L206.0 334.17 L206.5 334.09 L207.0 334.01 L207.5 333.91 L208.0 333.81 L208.5 333.69 L209.0 333.55 L209.5 333.40 L210.0 333.22 L210.5 333.01 L211.0 332.76 L211.5 332.48 L212.0 332.15 L212.5 331.77 L213.0 331.33 L213.5 330.84 L214.0 330.30 L214.5 329.71 L215.0 329.12 L215.5 328.57 L216.0 328.10 L216.5 327.78 L217.0 327.67 L217.5 327.76 L218.0 328.02 L218.5 328.41 L219.0 328.89 L219.5 329.41 L220.0 329.93 L220.5 330.42 L221.0 330.88 L221.5 331.29 L222.0 331.65 L222.5 331.97 L223.0 332.26 L223.5 332.50 L224.0 332.72 L224.5 332.91 L225.0 333.08 L225.5 333.23 L226.0 333.36 L226.5 333.48 L227.0 333.58 L227.5 333.67 L228.0 333.76 L228.5 333.83 L229.0 333.89 L229.5 333.95 L230.0 334.01 L230.5 334.06 L231.0 334.11 L231.5 334.16 L232.0 334.21 L232.5 334.25 L233.0 334.29 L233.5 334.33 L234.0 334.37 L234.5 334.40 L235.0 334.43 L235.5 334.46 L236.0 334.49 L236.5 334.51 L237.0 334.54 L237.5 334.56 L238.0 334.58 L238.5 334.59 L239.0 334.61 L239.5 334.62 L240.0 334.63 L240.5 334.64 L241.0 334.64 L241.5 334.64 L242.0 334.64 L242.5 334.63 L243.0 334.62 L243.5 334.60 L244.0 334.59 L244.5 334.57 L245.0 334.56 L245.5 334.54 L246.0 334.53 L246.5 334.52 L247.0 334.52 L247.5 334.51 L248.0 334.51 L248.5 334.51 L249.0 334.51 L249.5 334.51 L250.0 334.51 L250.5 334.50 L251.0 334.49 L251.5 334.48 L252.0 334.46 L252.5 334.44 L253.0 334.41 L253.5 334.38 L254.0 334.35 L254.5 334.31 L255.0 334.27 L255.5 334.22 L256.0 334.17 L256.5 334.11 L257.0 334.05 L257.5 333.99 L258.0 333.92 L258.5 333.85 L259.0 333.78 L259.5 333.70 L260.0 333.62 L260.5 333.54 L261.0 333.45 L261.5 333.35 L262.0 333.24 L262.5 333.12 L263.0 332.99 L263.5 332.84 L264.0 332.66 L264.5 332.46 L265.0 332.24 L265.5 331.97 L266.0 331.67 L266.5 331.32 L267.0 330.92 L267.5 330.46 L268.0 329.94 L268.5 329.35 L269.0 328.72 L269.5 328.05 L270.0 327.39 L270.5 326.77 L271.0 326.27 L271.5 325.94 L272.0 325.82 L272.5 325.89 L273.0 326.10 L273.5 326.43 L274.0 326.86 L274.5 327.34 L275.0 327.86 L275.5 328.38 L276.0 328.89 L276.5 329.37 L277.0 329.83 L277.5 330.24 L278.0 330.62 L278.5 330.96 L279.0 331.27 L279.5 331.55 L280.0 331.79 L280.5 332.02 L281.0 332.22 L281.5 332.40 L282.0 332.56 L282.5 332.71 L283.0 332.84 L283.5 332.97 L284.0 333.08 L284.5 333.18 L285.0 333.27 L285.5 333.37 L286.0 333.45 L286.5 333.54 L287.0 333.62 L287.5 333.69 L288.0 333.76 L288.5 333.83 L289.0 333.89 L289.5 333.94 L290.0 333.98 L290.5 334.02 L291.0 334.04 L291.5 334.06 L292.0 334.07 L292.5 334.07 L293.0 334.06 L293.5 334.06 L294.0 334.04 L294.5 334.03 L295.0 334.02 L295.5 334.01 L296.0 334.00 L296.5 333.99 L297.0 333.99 L297.5 333.98 L298.0 333.98 L298.5 333.98 L299.0 333.99 L299.5 333.99 L300.0 334.00 L300.5 334.01 L301.0 334.02 L301.5 334.03 L302.0 334.04 L302.5 334.05 L303.0 334.05 L303.5 334.06 L304.0 334.05 L304.5 334.04 L305.0 334.03 L305.5 334.01 L306.0 333.98 L306.5 333.94 L307.0 333.90 L307.5 333.85 L308.0 333.80 L308.5 333.74 L309.0 333.67 L309.5 333.61 L310.0 333.53 L310.5 333.45 L311.0 333.36 L311.5 333.27 L312.0 333.17 L312.5 333.07 L313.0 332.97 L313.5 332.86 L314.0 332.75 L314.5 332.63 L315.0 332.51 L315.5 332.39 L316.0 332.25 L316.5 332.10 L317.0 331.94 L317.5 331.74 L318.0 331.52 L318.5 331.27 L319.0 330.97 L319.5 330.64 L320.0 330.26 L320.5 329.84 L321.0 329.37 L321.5 328.85 L322.0 328.30 L322.5 327.69 L323.0 327.05 L323.5 326.38 L324.0 325.69 L324.5 324.99 L325.0 324.31 L325.5 323.68 L326.0 323.12 L326.5 322.67 L327.0 322.37 L327.5 322.25 L328.0 322.31 L328.5 322.55 L329.0 322.95 L329.5 323.48 L330.0 324.11 L330.5 324.80 L331.0 325.50 L331.5 326.20 L332.0 326.88 L332.5 327.52 L333.0 328.11 L333.5 328.66 L334.0 329.16 L334.5 329.62 L335.0 330.05 L335.5 330.44 L336.0 330.81 L336.5 331.14 L337.0 331.45 L337.5 331.74 L338.0 332.00 L338.5 332.23 L339.0 332.44 L339.5 332.62 L340.0 332.77 L340.5 332.91 L341.0 333.02 L341.5 333.13 L342.0 333.22 L342.5 333.30 L343.0 333.39 L343.5 333.46 L344.0 333.54 L344.5 333.61 L345.0 333.68 L345.5 333.75 L346.0 333.81 L346.5 333.86 L347.0 333.91 L347.5 333.95 L348.0 333.99 L348.5 334.03 L349.0 334.07 L349.5 334.11 L350.0 334.15 L350.5 334.19 L351.0 334.24 L351.5 334.28 L352.0 334.32 L352.5 334.36 L353.0 334.39 L353.5 334.42 L354.0 334.45 L354.5 334.47 L355.0 334.49 L355.5 334.51 L356.0 334.53 L356.5 334.54 L357.0 334.56 L357.5 334.57 L358.0 334.59 L358.5 334.60 L359.0 334.62 L359.5 334.64 L360.0 334.66 L360.5 334.69 L361.0 334.71 L361.5 334.73 L362.0 334.75 L362.5 334.76 L363.0 334.77 L363.5 334.77 L364.0 334.77 L364.5 334.76 L365.0 334.74 L365.5 334.72 L366.0 334.70 L366.5 334.68 L367.0 334.66 L367.5 334.64 L368.0 334.63 L368.5 334.61 L369.0 334.60 L369.5 334.60 L370.0 334.59 L370.5 334.59 L371.0 334.60 L371.5 334.61 L372.0 334.61 L372.5 334.63 L373.0 334.64 L373.5 334.65 L374.0 334.67 L374.5 334.68 L375.0 334.69 L375.5 334.69 L376.0 334.70 L376.5 334.70 L377.0 334.70 L377.5 334.70 L378.0 334.69 L378.5 334.69 L379.0 334.68 L379.5 334.68 L380.0 334.68 L380.5 334.69 L381.0 334.70 L381.5 334.71 L382.0 334.73 L382.5 334.75 L383.0 334.78 L383.5 334.80 L384.0 334.83 L384.5 334.85 L385.0 334.87 L385.5 334.89 L386.0 334.91 L386.5 334.92 L387.0 334.93 L387.5 334.94 L388.0 334.95 L388.5 334.96 L389.0 334.97 L389.5 334.98 L390.0 334.99 L390.5 335.00 L391.0 335.01 L391.5 335.02 L392.0 335.03 L392.5 335.03 L393.0 335.03 L393.5 335.03 L394.0 335.03 L394.5 335.03 L395.0 335.03 L395.5 335.02 L396.0 335.01 L396.5 335.01 L397.0 335.01 L397.5 335.00 L398.0 335.01 L398.5 335.01 L399.0 335.02 L399.5 335.03 L400.0 335.03 L400.5 335.04 L401.0 335.05 L401.5 335.05 L402.0 335.05 L402.5 335.04 L403.0 335.03 L403.5 335.02 L404.0 335.01 L404.5 334.99 L405.0 334.97 L405.5 334.96 L406.0 334.94 L406.5 334.92 L407.0 334.90 L407.5 334.88 L408.0 334.86 L408.5 334.84 L409.0 334.82 L409.5 334.80 L410.0 334.78 L410.5 334.77 L411.0 334.76 L411.5 334.75 L412.0 334.75 L412.5 334.75 L413.0 334.76 L413.5 334.76 L414.0 334.77 L414.5 334.77 L415.0 334.77 L415.5 334.77 L416.0 334.76 L416.5 334.75 L417.0 334.74 L417.5 334.72 L418.0 334.71 L418.5 334.71 L419.0 334.70 L419.5 334.71 L420.0 334.72 L420.5 334.74 L421.0 334.76 L421.5 334.78 L422.0 334.81 L422.5 334.84 L423.0 334.87 L423.5 334.90 L424.0 334.92 L424.5 334.94 L425.0 334.95 L425.5 334.96 L426.0 334.96 L426.5 334.96 L427.0 334.95 L427.5 334.95 L428.0 334.95 L428.5 334.94 L429.0 334.94 L429.5 334.93 L430.0 334.93 L430.5 334.92 L431.0 334.91 L431.5 334.91 L432.0 334.90 L432.5 334.89 L433.0 334.89 L433.5 334.88 L434.0 334.88 L434.5 334.87 L435.0 334.87 L435.5 334.87 L436.0 334.87 L436.5 334.88 L437.0 334.88 L437.5 334.89 L438.0 334.90 L438.5 334.91 L439.0 334.93 L439.5 334.94 L440.0 334.95 L440.5 334.96 L441.0 334.97 L441.5 334.97 L442.0 334.98 L442.5 334.98 L443.0 334.98 L443.5 334.97 L444.0 334.96 L444.5 334.95 L445.0 334.94 L445.5 334.94 L446.0 334.93 L446.5 334.93 L447.0 334.93 L447.5 334.94 L448.0 334.94 L448.5 334.95 L449.0 334.96 L449.5 334.97 L450.0 334.97 L450.5 334.98 L451.0 334.98 L451.5 334.99 L452.0 334.99 L452.5 335.00 L453.0 335.01 L453.5 335.01 L454.0 335.02 L454.5 335.03 L455.0 335.03 L455.5 335.03 L456.0 335.03 L456.5 335.03 L457.0 335.02 L457.5 335.01 L458.0 335.00 L458.5 334.99 L459.0 334.99 L459.5 334.99 L460.0 334.99 L460.5 334.99 L461.0 334.99 L461.5 334.99 L462.0 334.99 L462.5 334.98 L463.0 334.98 L463.5 334.97 L464.0 334.96 L464.5 334.95 L465.0 334.93 L465.5 334.92 L466.0 334.90 L466.5 334.88 L467.0 334.86 L467.5 334.85 L468.0 334.83 L468.5 334.82 L469.0 334.82 L469.5 334.81 L470.0 334.81 L470.5 334.81 L471.0 334.81 L471.5 334.82 L472.0 334.82 L472.5 334.83 L473.0 334.83 L473.5 334.84 L474.0 334.84 L474.5 334.84 L475.0 334.84 L475.5 334.84 L476.0 334.84 L476.5 334.84 L477.0 334.84 L477.5 334.84 L478.0 334.84 L478.5 334.84 L479.0 334.84 L479.5 334.85 L480.0 334.86 L480.5 334.87 L481.0 334.88 L481.5 334.89 L482.0 334.89 L482.5 334.90 L483.0 334.90 L483.5 334.90 L484.0 334.89 L484.5 334.88 L485.0 334.88 L485.5 334.87 L486.0 334.86 L486.5 334.86 L487.0 334.86 L487.5 334.86 L488.0 334.87 L488.5 334.89 L489.0 334.91 L489.5 334.93 L490.0 334.96 L490.5 334.99 L491.0 335.02 L491.5 335.05 L492.0 335.07 L492.5 335.09 L493.0 335.10 L493.5 335.11 L494.0 335.11 L494.5 335.10 L495.0 335.09 L495.5 335.06 L496.0 335.04" stroke="#22e022"/>
<path d="M57.5 310.61 L58.0 310.57 L58.5 310.53 L59.0 310.48 L59.5 310.44 L60.0 310.39 L60.5 310.34 L61.0 310.30 L61.5 310.25 L62.0 310.21 L62.5 310.17 L63.0 310.14 L63.5 310.10 L64.0 310.06 L64.5 310.03 L65.0 309.99 L65.5 309.95 L66.0 309.91 L66.5 309.87 L67.0 309.83 L67.5 309.79 L68.0 309.75 L68.5 309.71 L69.0 309.66 L69.5 309.62 L70.0 309.58 L70.5 309.54 L71.0 309.50 L71.5 309.47 L72.0 309.44 L72.5 309.41 L73.0 309.38 L73.5 309.35 L74.0 309.32 L74.5 309.29 L75.0 309.26 L75.5 309.22 L76.0 309.18 L76.5 309.14 L77.0 309.09 L77.5 309.03 L78.0 308.97 L78.5 308.91 L79.0 308.85 L79.5 308.79 L80.0 308.73 L80.5 308.68 L81.0 308.63 L81.5 308.58 L82.0 308.54 L82.5 308.50 L83.0 308.47 L83.5 308.44 L84.0 308.42 L84.5 308.40 L85.0 308.38 L85.5 308.35 L86.0 308.33 L86.5 308.31 L87.0 308.28 L87.5 308.25 L88.0 308.22 L88.5 308.18 L89.0 308.14 L89.5 308.10 L90.0 308.05 L90.5 308.00 L91.0 307.94 L91.5 307.88 L92.0 307.81 L92.5 307.74 L93.0 307.67 L93.5 307.60 L94.0 307.52 L94.5 307.44 L95.0 307.37 L95.5 307.29 L96.0 307.21 L96.5 307.14 L97.0 307.06 L97.5 306.98 L98.0 306.90 L98.5 306.81 L99.0 306.72 L99.5 306.61 L100.0 306.50 L100.5 306.44 L101.0 306.36 L101.5 306.25 L102.0 306.11 L102.5 305.94 L103.0 305.74 L103.5 305.52 L104.0 305.29 L104.5 305.10 L105.0 305.01 L105.5 305.05 L106.0 305.22 L106.5 305.49 L107.0 305.81 L107.5 306.12 L108.0 306.41 L108.5 306.65 L109.0 306.86 L109.5 307.02 L110.0 307.15 L110.5 307.25 L111.0 307.33 L111.5 307.39 L112.0 307.44 L112.5 307.48 L113.0 307.52 L113.5 307.56 L114.0 307.60 L114.5 307.63 L115.0 307.68 L115.5 307.72 L116.0 307.76 L116.5 307.80 L117.0 307.84 L117.5 307.87 L118.0 307.90 L118.5 307.91 L119.0 307.92 L119.5 307.93 L120.0 307.94 L120.5 307.95 L121.0 307.96 L121.5 307.98 L122.0 308.00 L122.5 308.02 L123.0 308.04 L123.5 308.06 L124.0 308.09 L124.5 308.12 L125.0 308.15 L125.5 308.17 L126.0 308.20 L126.5 308.22 L127.0 308.25 L127.5 308.27 L128.0 308.28 L128.5 308.30 L129.0 308.31 L129.5 308.32 L130.0 308.32 L130.5 308.32 L131.0 308.32 L131.5 308.32 L132.0 308.31 L132.5 308.30 L133.0 308.29 L133.5 308.28 L134.0 308.27 L134.5 308.26 L135.0 308.25 L135.5 308.24 L136.0 308.23 L136.5 308.22 L137.0 308.21 L137.5 308.21 L138.0 308.21 L138.5 308.21 L139.0 308.22 L139.5 308.24 L140.0 308.27 L140.5 308.31 L141.0 308.35 L141.5 308.40 L142.0 308.45 L142.5 308.50 L143.0 308.55 L143.5 308.60 L144.0 308.63 L144.5 308.66 L145.0 308.69 L145.5 308.70 L146.0 308.71 L146.5 308.72 L147.0 308.72 L147.5 308.72 L148.0 308.71 L148.5 308.71 L149.0 308.72 L149.5 308.72 L150.0 308.73 L150.5 308.74 L151.0 308.76 L151.5 308.79 L152.0 308.82 L152.5 308.85 L153.0 308.89 L153.5 308.93 L154.0 308.97 L154.5 309.01 L155.0 309.05 L155.5 309.09 L156.0 309.12 L156.5 309.14 L157.0 309.16 L157.5 309.17 L158.0 309.18 L158.5 309.18 L159.0 309.18 L159.5 309.17 L160.0 309.16 L160.5 309.15 L161.0 309.13 L161.5 309.12 L162.0 309.11 L162.5 309.09 L163.0 309.09 L163.5 309.08 L164.0 309.08 L164.5 309.09 L165.0 309.10 L165.5 309.11 L166.0 309.12 L166.5 309.14 L167.0 309.16 L167.5 309.18 L168.0 309.19 L168.5 309.20 L169.0 309.20 L169.5 309.19 L170.0 309.17 L170.5 309.15 L171.0 309.12 L171.5 309.09 L172.0 309.06 L172.5 309.03 L173.0 309.00 L173.5 308.98 L174.0 308.96 L174.5 308.94 L175.0 308.92 L175.5 308.91 L176.0 308.90 L176.5 308.88 L177.0 308.88 L177.5 308.88 L178.0 308.88 L178.5 308.90 L179.0 308.92 L179.5 308.96 L180.0 308.99 L180.5 309.04 L181.0 309.08 L181.5 309.11 L182.0 309.14 L182.5 309.16 L183.0 309.16 L183.5 309.16 L184.0 309.14 L184.5 309.12 L185.0 309.09 L185.5 309.06 L186.0 309.03 L186.5 309.01 L187.0 308.98 L187.5 308.96 L188.0 308.95 L188.5 308.94 L189.0 308.94 L189.5 308.94 L190.0 308.95 L190.5 308.96 L191.0 308.98 L191.5 309.00 L192.0 309.01 L192.5 309.03 L193.0 309.04 L193.5 309.04 L194.0 309.04 L194.5 309.04 L195.0 309.03 L195.5 309.02 L196.0 309.02 L196.5 309.01 L197.0 309.01 L197.5 309.01 L198.0 309.01 L198.5 309.01 L199.0 309.01 L199.5 309.01 L200.0 309.00 L200.5 309.00 L201.0 308.99 L201.5 308.98 L202.0 308.97 L202.5 308.96 L203.0 308.95 L203.5 308.93 L204.0 308.92 L204.5 308.90 L205.0 308.89 L205.5 308.88 L206.0 308.87 L206.5 308.87 L207.0 308.87 L207.5 308.88 L208.0 308.89 L208.5 308.91 L209.0 308.93 L209.5 308.96 L210.0 308.99 L210.5 309.02 L211.0 309.05 L211.5 309.08 L212.0 309.10 L212.5 309.11 L213.0 309.12 L213.5 309.12 L214.0 309.11 L214.5 309.09 L215.0 309.07 L215.5 309.04 L216.0 309.01 L216.5 308.97 L217.0 308.94 L217.5 308.91 L218.0 308.88 L218.5 308.85 L219.0 308.83 L219.5 308.81 L220.0 308.80 L220.5 308.79 L221.0 308.79 L221.5 308.79 L222.0 308.80 L222.5 308.82 L223.0 308.84 L223.5 308.86 L224.0 308.88 L224.5 308.90 L225.0 308.92 L225.5 308.93 L226.0 308.95 L226.5 308.95 L227.0 308.96 L227.5 308.97 L228.0 308.97 L228.5 308.98 L229.0 308.99 L229.5 309.00 L230.0 309.01 L230.5 309.02 L231.0 309.03 L231.5 309.04 L232.0 309.04 L232.5 309.04 L233.0 309.04 L233.5 309.04 L234.0 309.03 L234.5 309.03 L235.0 309.02 L235.5 309.02 L236.0 309.01 L236.5 309.01 L237.0 309.01 L237.5 309.02 L238.0 309.02 L238.5 309.03 L239.0 309.04 L239.5 309.05 L240.0 309.06 L240.5 309.06 L241.0 309.07 L241.5 309.07 L242.0 309.07 L242.5 309.07 L243.0 309.07 L243.5 309.07 L244.0 309.07 L244.5 309.07 L245.0 309.06 L245.5 309.06 L246.0 309.06 L246.5 309.06 L247.0 309.06 L247.5 309.06 L248.0 309.05 L248.5 309.04 L249.0 309.04 L249.5 309.03 L250.0 309.02 L250.5 309.02 L251.0 309.02 L251.5 309.02 L252.0 309.02 L252.5 309.03 L253.0 309.04 L253.5 309.05 L254.0 309.05 L254.5 309.05 L255.0 309.06 L255.5 309.06 L256.0 309.06 L256.5 309.06 L257.0 309.06 L257.5 309.06 L258.0 309.07 L258.5 309.07 L259.0 309.08 L259.5 309.08 L260.0 309.09 L260.5 309.09 L261.0 309.10 L261.5 309.10 L262.0 309.10 L262.5 309.10 L263.0 309.10 L263.5 309.10 L264.0 309.10 L264.5 309.10 L265.0 309.10 L265.5 309.10 L266.0 309.09 L266.5 309.09 L267.0 309.08 L267.5 309.07 L268.0 309.06 L268.5 309.04 L269.0 309.03 L269.5 309.01 L270.0 308.99 L270.5 308.97 L271.0 308.95 L271.5 308.93 L272.0 308.91 L272.5 308.89 L273.0 308.87 L273.5 308.85 L274.0 308.84 L274.5 308.84 L275.0 308.84 L275.5 308.85 L276.0 308.87 L276.5 308.88 L277.0 308.90 L277.5 308.92 L278.0 308.94 L278.5 308.95 L279.0 308.96 L279.5 308.96 L280.0 308.96 L280.5 308.96 L281.0 308.96 L281.5 308.96 L282.0 308.96 L282.5 308.96 L283.0 308.96 L283.5 308.97 L284.0 308.97 L284.5 308.98 L285.0 308.98 L285.5 308.98 L286.0 308.99 L286.5 308.99 L287.0 309.00 L287.5 309.01 L288.0 309.03 L288.5 309.04 L289.0 309.06 L289.5 309.08 L290.0 309.10 L290.5 309.12 L291.0 309.14 L291.5 309.15 L292.0 309.16 L292.5 309.16 L293.0 309.17 L293.5 309.17 L294.0 309.17 L294.5 309.17 L295.0 309.17 L295.5 309.18 L296.0 309.18 L296.5 309.19 L297.0 309.20 L297.5 309.21 L298.0 309.22 L298.5 309.24 L299.0 309.25 L299.5 309.27 L300.0 309.29 L300.5 309.31 L301.0 309.33 L301.5 309.35 L302.0 309.36 L302.5 309.37 L303.0 309.37 L303.5 309.37 L304.0 309.37 L304.5 309.36 L305.0 309.34 L305.5 309.32 L306.0 309.29 L306.5 309.27 L307.0 309.25 L307.5 309.23 L308.0 309.21 L308.5 309.21 L309.0 309.20 L309.5 309.21 L310.0 309.22 L310.5 309.23 L311.0 309.25 L311.5 309.27 L312.0 309.29 L312.5 309.31 L313.0 309.32 L313.5 309.34 L314.0 309.35 L314.5 309.36 L315.0 309.37 L315.5 309.37 L316.0 309.37 L316.5 309.38 L317.0 309.37 L317.5 309.37 L318.0 309.37 L318.5 309.36 L319.0 309.35 L319.5 309.34 L320.0 309.32 L320.5 309.31 L321.0 309.29 L321.5 309.28 L322.0 309.27 L322.5 309.27 L323.0 309.27 L323.5 309.28 L324.0 309.29 L324.5 309.31 L325.0 309.32 L325.5 309.34 L326.0 309.35 L326.5 309.36 L327.0 309.36 L327.5 309.36 L328.0 309.36 L328.5 309.36 L329.0 309.35 L329.5 309.34 L330.0 309.33 L330.5 309.32 L331.0 309.31 L331.5 309.30 L332.0 309.30 L332.5 309.30 L333.0 309.30 L333.5 309.30 L334.0 309.30 L334.5 309.31 L335.0 309.33 L335.5 309.34 L336.0 309.36 L336.5 309.37 L337.0 309.39 L337.5 309.41 L338.0 309.43 L338.5 309.44 L339.0 309.45 L339.5 309.46 L340.0 309.46 L340.5 309.46 L341.0 309.46 L341.5 309.45 L342.0 309.44 L342.5 309.43 L343.0 309.42 L343.5 309.42 L344.0 309.42 L344.5 309.42 L345.0 309.43 L345.5 309.44 L346.0 309.45 L346.5 309.46 L347.0 309.47 L347.5 309.47 L348.0 309.48 L348.5 309.47 L349.0 309.47 L349.5 309.45 L350.0 309.44 L350.5 309.43 L351.0 309.42 L351.5 309.41 L352.0 309.41 L352.5 309.40 L353.0 309.41 L353.5 309.41 L354.0 309.42 L354.5 309.42 L355.0 309.43 L355.5 309.44 L356.0 309.45 L356.5 309.46 L357.0 309.47 L357.5 309.48 L358.0 309.50 L358.5 309.51 L359.0 309.52 L359.5 309.52 L360.0 309.53 L360.5 309.53 L361.0 309.52 L361.5 309.51 L362.0 309.49 L362.5 309.48 L363.0 309.46 L363.5 309.45 L364.0 309.45 L364.5 309.45 L365.0 309.46 L365.5 309.48 L366.0 309.51 L366.5 309.54 L367.0 309.57 L367.5 309.60 L368.0 309.62 L368.5 309.64 L369.0 309.65 L369.5 309.66 L370.0 309.66 L370.5 309.65 L371.0 309.64 L371.5 309.63 L372.0 309.62 L372.5 309.61 L373.0 309.61 L373.5 309.61 L374.0 309.62 L374.5 309.62 L375.0 309.63 L375.5 309.63 L376.0 309.63 L376.5 309.63 L377.0 309.62 L377.5 309.61 L378.0 309.60 L378.5 309.58 L379.0 309.57 L379.5 309.55 L380.0 309.54 L380.5 309.52 L381.0 309.51 L381.5 309.49 L382.0 309.48 L382.5 309.46 L383.0 309.45 L383.5 309.43 L384.0 309.42 L384.5 309.40 L385.0 309.39 L385.5 309.38 L386.0 309.37 L386.5 309.37 L387.0 309.37 L387.5 309.38 L388.0 309.40 L388.5 309.42 L389.0 309.45 L389.5 309.49 L390.0 309.52 L390.5 309.56 L391.0 309.59 L391.5 309.63 L392.0 309.66 L392.5 309.69 L393.0 309.70 L393.5 309.72 L394.0 309.72 L394.5 309.72 L395.0 309.72 L395.5 309.71 L396.0 309.69 L396.5 309.68 L397.0 309.67 L397.5 309.65 L398.0 309.64 L398.5 309.63 L399.0 309.62 L399.5 309.61 L400.0 309.61 L400.5 309.61 L401.0 309.61 L401.5 309.62 L402.0 309.62 L402.5 309.63 L403.0 309.63 L403.5 309.64 L404.0 309.65 L404.5 309.65 L405.0 309.65 L405.5 309.65 L406.0 309.65 L406.5 309.65 L407.0 309.64 L407.5 309.63 L408.0 309.61 L408.5 309.59 L409.0 309.57 L409.5 309.55 L410.0 309.54 L410.5 309.52 L411.0 309.52 L411.5 309.52 L412.0 309.53 L412.5 309.55 L413.0 309.57 L413.5 309.60 L414.0 309.63 L414.5 309.65 L415.0 309.68 L415.5 309.69 L416.0 309.71 L416.5 309.72 L417.0 309.72 L417.5 309.73 L418.0 309.73 L418.5 309.74 L419.0 309.75 L419.5 309.77 L420.0 309.79 L420.5 309.81 L421.0 309.83 L421.5 309.85 L422.0 309.86 L422.5 309.87 L423.0 309.87 L423.5 309.87 L424.0 309.85 L424.5 309.84 L425.0 309.82 L425.5 309.80 L426.0 309.79 L426.5 309.78 L427.0 309.78 L427.5 309.79 L428.0 309.80 L428.5 309.82 L429.0 309.85 L429.5 309.87 L430.0 309.89 L430.5 309.91 L431.0 309.92 L431.5 309.92 L432.0 309.92 L432.5 309.91 L433.0 309.89 L433.5 309.88 L434.0 309.86 L434.5 309.84 L435.0 309.83 L435.5 309.82 L436.0 309.81 L436.5 309.81 L437.0 309.81 L437.5 309.80 L438.0 309.80 L438.5 309.80 L439.0 309.80 L439.5 309.80 L440.0 309.80 L440.5 309.80 L441.0 309.80 L441.5 309.80 L442.0 309.81 L442.5 309.81 L443.0 309.83 L443.5 309.84 L444.0 309.85 L444.5 309.86 L445.0 309.87 L445.5 309.88 L446.0 309.89 L446.5 309.90 L447.0 309.91 L447.5 309.92 L448.0 309.93 L448.5 309.94 L449.0 309.95 L449.5 309.96 L450.0 309.97 L450.5 309.98 L451.0 309.99 L451.5 309.99 L452.0 310.00 L452.5 310.00 L453.0 310.00 L453.5 309.99 L454.0 309.99 L454.5 309.98 L455.0 309.98 L455.5 309.97 L456.0 309.95 L456.5 309.94 L457.0 309.93 L457.5 309.92 L458.0 309.91 L458.5 309.91 L459.0 309.91 L459.5 309.92 L460.0 309.93 L460.5 309.94 L461.0 309.96 L461.5 309.99 L462.0 310.02 L462.5 310.05 L463.0 310.07 L463.5 310.09 L464.0 310.11 L464.5 310.12 L465.0 310.12 L465.5 310.12 L466.0 310.11 L466.5 310.10 L467.0 310.09 L467.5 310.07 L468.0 310.06 L468.5 310.05 L469.0 310.04 L469.5 310.04 L470.0 310.04 L470.5 310.03 L471.0 310.04 L471.5 310.04 L472.0 310.04 L472.5 310.05 L473.0 310.05 L473.5 310.05 L474.0 310.05 L474.5 310.04 L475.0 310.04 L475.5 310.03 L476.0 310.02 L476.5 310.01 L477.0 310.00 L477.5 309.99 L478.0 309.98 L478.5 309.98 L479.0 309.97 L479.5 309.96 L480.0 309.96 L480.5 309.95 L481.0 309.95 L481.5 309.95 L482.0 309.96 L482.5 309.96 L483.0 309.97 L483.5 309.98 L484.0 309.99 L484.5 310.00 L485.0 310.02 L485.5 310.03 L486.0 310.04 L486.5 310.05 L487.0 310.06 L487.5 310.07 L488.0 310.08 L488.5 310.09 L489.0 310.10 L489.5 310.11 L490.0 310.12 L490.5 310.13 L491.0 310.14 L491.5 310.16 L492.0 310.17 L492.5 310.18 L493.0 310.20 L493.5 310.21 L494.0 310.23 L494.5 310.24 L495.0 310.24 L495.5 310.24 L496.0 310.24" stroke="#a6e52a"/>
<path d="M57.5 286.91 L58.0 286.85 L58.5 286.79 L59.0 286.73 L59.5 286.66 L60.0 286.59 L60.5 286.53 L61.0 286.46 L61.5 286.40 L62.0 286.33 L62.5 286.27 L63.0 286.21 L63.5 286.15 L64.0 286.09 L64.5 286.03 L65.0 285.98 L65.5 285.92 L66.0 285.86 L66.5 285.80 L67.0 285.75 L67.5 285.69 L68.0 285.64 L68.5 285.59 L69.0 285.54 L69.5 285.50 L70.0 285.45 L70.5 285.41 L71.0 285.36 L71.5 285.31 L72.0 285.26 L72.5 285.20 L73.0 285.14 L73.5 285.06 L74.0 284.98 L74.5 284.89 L75.0 284.79 L75.5 284.68 L76.0 284.57 L76.5 284.45 L77.0 284.33 L77.5 284.20 L78.0 284.07 L78.5 283.93 L79.0 283.79 L79.5 283.65 L80.0 283.51 L80.5 283.37 L81.0 283.22 L81.5 283.06 L82.0 282.89 L82.5 282.70 L83.0 282.50 L83.5 282.29 L84.0 282.05 L84.5 281.79 L85.0 281.50 L85.5 281.23 L86.0 280.93 L86.5 280.59 L87.0 280.22 L87.5 279.81 L88.0 279.35 L88.5 278.84 L89.0 278.25 L89.5 277.59 L90.0 276.82 L90.5 275.94 L91.0 274.90 L91.5 273.68 L92.0 272.22 L92.5 270.46 L93.0 268.30 L93.5 265.63 L94.0 262.26 L94.5 257.92 L95.0 252.25 L95.5 244.68 L96.0 234.47 L96.5 220.66 L97.0 202.21 L97.5 178.30 L98.0 148.84 L98.5 115.11 L99.0 80.19 L99.5 48.91 L100.0 26.77 L100.5 18.11 L101.0 24.75 L101.5 45.26 L102.0 75.49 L102.5 110.14 L103.0 144.42 L103.5 174.88 L104.0 199.92 L104.5 219.39 L105.0 234.02 L105.5 244.84 L106.0 252.83 L106.5 258.80 L107.0 263.34 L107.5 266.85 L108.0 269.62 L108.5 271.85 L109.0 273.66 L109.5 275.16 L110.0 276.41 L110.5 277.46 L111.0 278.36 L111.5 279.13 L112.0 279.80 L112.5 280.39 L113.0 280.91 L113.5 281.37 L114.0 281.78 L114.5 282.15 L115.0 282.48 L115.5 282.79 L116.0 283.06 L116.5 283.30 L117.0 283.52 L117.5 283.72 L118.0 283.89 L118.5 284.05 L119.0 284.19 L119.5 284.31 L120.0 284.42 L120.5 284.52 L121.0 284.59 L121.5 284.65 L122.0 284.70 L122.5 284.71 L123.0 284.70 L123.5 284.64 L124.0 284.53 L124.5 284.38 L125.0 284.30 L125.5 284.40 L126.0 284.68 L126.5 285.00 L127.0 285.26 L127.5 285.46 L128.0 285.61 L128.5 285.72 L129.0 285.81 L129.5 285.89 L130.0 285.95 L130.5 286.00 L131.0 286.05 L131.5 286.09 L132.0 286.11 L132.5 286.13 L133.0 286.15 L133.5 286.16 L134.0 286.17 L134.5 286.18 L135.0 286.19 L135.5 286.20 L136.0 286.22 L136.5 286.24 L137.0 286.25 L137.5 286.27 L138.0 286.28 L138.5 286.29 L139.0 286.30 L139.5 286.31 L140.0 286.31 L140.5 286.31 L141.0 286.31 L141.5 286.30 L142.0 286.29 L142.5 286.29 L143.0 286.28 L143.5 286.28 L144.0 286.27 L144.5 286.27 L145.0 286.27 L145.5 286.26 L146.0 286.26 L146.5 286.25 L147.0 286.24 L147.5 286.22 L148.0 286.20 L148.5 286.18 L149.0 286.16 L149.5 286.14 L150.0 286.12 L150.5 286.11 L151.0 286.10 L151.5 286.10 L152.0 286.11 L152.5 286.13 L153.0 286.15 L153.5 286.18 L154.0 286.22 L154.5 286.26 L155.0 286.30 L155.5 286.35 L156.0 286.40 L156.5 286.44 L157.0 286.48 L157.5 286.50 L158.0 286.52 L158.5 286.53 L159.0 286.53 L159.5 286.52 L160.0 286.51 L160.5 286.49 L161.0 286.48 L161.5 286.46 L162.0 286.45 L162.5 286.45 L163.0 286.44 L163.5 286.44 L164.0 286.44 L164.5 286.44 L165.0 286.44 L165.5 286.43 L166.0 286.42 L166.5 286.42 L167.0 286.40 L167.5 286.39 L168.0 286.38 L168.5 286.37 L169.0 286.36 L169.5 286.35 L170.0 286.35 L170.5 286.35 L171.0 286.35 L171.5 286.36 L172.0 286.37 L172.5 286.38 L173.0 286.40 L173.5 286.41 L174.0 286.43 L174.5 286.45 L175.0 286.46 L175.5 286.48 L176.0 286.49 L176.5 286.50 L177.0 286.50 L177.5 286.50 L178.0 286.51 L178.5 286.51 L179.0 286.53 L179.5 286.54 L180.0 286.56 L180.5 286.59 L181.0 286.62 L181.5 286.64 L182.0 286.66 L182.5 286.67 L183.0 286.67 L183.5 286.66 L184.0 286.64 L184.5 286.60 L185.0 286.57 L185.5 286.53 L186.0 286.48 L186.5 286.44 L187.0 286.41 L187.5 286.37 L188.0 286.34 L188.5 286.32 L189.0 286.29 L189.5 286.27 L190.0 286.25 L190.5 286.23 L191.0 286.20 L191.5 286.18 L192.0 286.16 L192.5 286.14 L193.0 286.12 L193.5 286.10 L194.0 286.09 L194.5 286.08 L195.0 286.07 L195.5 286.07 L196.0 286.06 L196.5 286.05 L197.0 286.04 L197.5 286.03 L198.0 286.01 L198.5 285.98 L199.0 285.95 L199.5 285.91 L200.0 285.87 L200.5 285.83 L201.0 285.78 L201.5 285.73 L202.0 285.69 L202.5 285.64 L203.0 285.60 L203.5 285.55 L204.0 285.51 L204.5 285.45 L205.0 285.39 L205.5 285.32 L206.0 285.24 L206.5 285.15 L207.0 285.04 L207.5 284.91 L208.0 284.76 L208.5 284.59 L209.0 284.39 L209.5 284.16 L210.0 283.91 L210.5 283.61 L211.0 283.26 L211.5 282.87 L212.0 282.41 L212.5 281.89 L213.0 281.30 L213.5 280.65 L214.0 279.93 L214.5 279.18 L215.0 278.42 L215.5 277.72 L216.0 277.15 L216.5 276.76 L217.0 276.62 L217.5 276.72 L218.0 277.02 L218.5 277.47 L219.0 278.04 L219.5 278.68 L220.0 279.34 L220.5 279.99 L221.0 280.60 L221.5 281.17 L222.0 281.68 L222.5 282.14 L223.0 282.55 L223.5 282.91 L224.0 283.22 L224.5 283.49 L225.0 283.73 L225.5 283.94 L226.0 284.13 L226.5 284.29 L227.0 284.44 L227.5 284.58 L228.0 284.70 L228.5 284.83 L229.0 284.95 L229.5 285.06 L230.0 285.17 L230.5 285.28 L231.0 285.38 L231.5 285.47 L232.0 285.56 L232.5 285.63 L233.0 285.69 L233.5 285.74 L234.0 285.78 L234.5 285.81 L235.0 285.84 L235.5 285.86 L236.0 285.87 L236.5 285.88 L237.0 285.89 L237.5 285.90 L238.0 285.90 L238.5 285.91 L239.0 285.91 L239.5 285.90 L240.0 285.90 L240.5 285.90 L241.0 285.90 L241.5 285.90 L242.0 285.90 L242.5 285.90 L243.0 285.90 L243.5 285.90 L244.0 285.89 L244.5 285.89 L245.0 285.89 L245.5 285.88 L246.0 285.88 L246.5 285.87 L247.0 285.87 L247.5 285.86 L248.0 285.85 L248.5 285.84 L249.0 285.83 L249.5 285.81 L250.0 285.80 L250.5 285.78 L251.0 285.75 L251.5 285.73 L252.0 285.71 L252.5 285.68 L253.0 285.65 L253.5 285.62 L254.0 285.59 L254.5 285.55 L255.0 285.50 L255.5 285.45 L256.0 285.38 L256.5 285.31 L257.0 285.23 L257.5 285.13 L258.0 285.03 L258.5 284.92 L259.0 284.79 L259.5 284.66 L260.0 284.52 L260.5 284.37 L261.0 284.20 L261.5 284.02 L262.0 283.82 L262.5 283.60 L263.0 283.34 L263.5 283.05 L264.0 282.71 L264.5 282.32 L265.0 281.87 L265.5 281.35 L266.0 280.76 L266.5 280.07 L267.0 279.29 L267.5 278.40 L268.0 277.39 L268.5 276.28 L269.0 275.06 L269.5 273.77 L270.0 272.47 L270.5 271.25 L271.0 270.21 L271.5 269.49 L272.0 269.18 L272.5 269.27 L273.0 269.63 L273.5 270.21 L274.0 270.99 L274.5 271.89 L275.0 272.87 L275.5 273.87 L276.0 274.86 L276.5 275.82 L277.0 276.72 L277.5 277.56 L278.0 278.32 L278.5 279.02 L279.0 279.64 L279.5 280.20 L280.0 280.70 L280.5 281.13 L281.0 281.51 L281.5 281.85 L282.0 282.15 L282.5 282.42 L283.0 282.66 L283.5 282.88 L284.0 283.08 L284.5 283.27 L285.0 283.44 L285.5 283.61 L286.0 283.77 L286.5 283.91 L287.0 284.05 L287.5 284.17 L288.0 284.29 L288.5 284.40 L289.0 284.50 L289.5 284.59 L290.0 284.69 L290.5 284.78 L291.0 284.86 L291.5 284.95 L292.0 285.03 L292.5 285.11 L293.0 285.18 L293.5 285.24 L294.0 285.29 L294.5 285.32 L295.0 285.35 L295.5 285.36 L296.0 285.35 L296.5 285.34 L297.0 285.33 L297.5 285.31 L298.0 285.29 L298.5 285.27 L299.0 285.25 L299.5 285.23 L300.0 285.21 L300.5 285.20 L301.0 285.18 L301.5 285.17 L302.0 285.16 L302.5 285.15 L303.0 285.13 L303.5 285.12 L304.0 285.10 L304.5 285.08 L305.0 285.06 L305.5 285.04 L306.0 285.01 L306.5 284.98 L307.0 284.94 L307.5 284.89 L308.0 284.84 L308.5 284.78 L309.0 284.72 L309.5 284.65 L310.0 284.58 L310.5 284.51 L311.0 284.43 L311.5 284.35 L312.0 284.26 L312.5 284.16 L313.0 284.06 L313.5 283.94 L314.0 283.81 L314.5 283.66 L315.0 283.49 L315.5 283.29 L316.0 283.06 L316.5 282.80 L317.0 282.51 L317.5 282.19 L318.0 281.83 L318.5 281.44 L319.0 281.02 L319.5 280.55 L320.0 280.04 L320.5 279.48 L321.0 278.85 L321.5 278.15 L322.0 277.38 L322.5 276.50 L323.0 275.53 L323.5 274.46 L324.0 273.28 L324.5 272.01 L325.0 270.66 L325.5 269.28 L326.0 267.90 L326.5 266.60 L327.0 265.46 L327.5 264.58 L328.0 264.02 L328.5 263.86 L329.0 264.09 L329.5 264.70 L330.0 265.63 L330.5 266.80 L331.0 268.11 L331.5 269.48 L332.0 270.85 L332.5 272.17 L333.0 273.41 L333.5 274.56 L334.0 275.60 L334.5 276.55 L335.0 277.40 L335.5 278.17 L336.0 278.86 L336.5 279.48 L337.0 280.04 L337.5 280.55 L338.0 281.02 L338.5 281.44 L339.0 281.83 L339.5 282.19 L340.0 282.52 L340.5 282.83 L341.0 283.11 L341.5 283.38 L342.0 283.62 L342.5 283.85 L343.0 284.05 L343.5 284.23 L344.0 284.39 L344.5 284.54 L345.0 284.66 L345.5 284.78 L346.0 284.88 L346.5 284.97 L347.0 285.06 L347.5 285.14 L348.0 285.21 L348.5 285.28 L349.0 285.35 L349.5 285.41 L350.0 285.47 L350.5 285.53 L351.0 285.58 L351.5 285.64 L352.0 285.68 L352.5 285.73 L353.0 285.77 L353.5 285.80 L354.0 285.83 L354.5 285.84 L355.0 285.85 L355.5 285.86 L356.0 285.86 L356.5 285.87 L357.0 285.87 L357.5 285.89 L358.0 285.91 L358.5 285.93 L359.0 285.97 L359.5 286.00 L360.0 286.05 L360.5 286.09 L361.0 286.12 L361.5 286.16 L362.0 286.19 L362.5 286.21 L363.0 286.23 L363.5 286.25 L364.0 286.26 L364.5 286.26 L365.0 286.26 L365.5 286.26 L366.0 286.26 L366.5 286.25 L367.0 286.24 L367.5 286.22 L368.0 286.21 L368.5 286.19 L369.0 286.18 L369.5 286.17 L370.0 286.15 L370.5 286.14 L371.0 286.14 L371.5 286.14 L372.0 286.14 L372.5 286.16 L373.0 286.18 L373.5 286.22 L374.0 286.26 L374.5 286.31 L375.0 286.37 L375.5 286.43 L376.0 286.49 L376.5 286.54 L377.0 286.58 L377.5 286.61 L378.0 286.63 L378.5 286.63 L379.0 286.63 L379.5 286.62 L380.0 286.60 L380.5 286.58 L381.0 286.56 L381.5 286.55 L382.0 286.54 L382.5 286.53 L383.0 286.53 L383.5 286.54 L384.0 286.54 L384.5 286.55 L385.0 286.56 L385.5 286.57 L386.0 286.59 L386.5 286.60 L387.0 286.61 L387.5 286.62 L388.0 286.63 L388.5 286.63 L389.0 286.63 L389.5 286.63 L390.0 286.63 L390.5 286.62 L391.0 286.61 L391.5 286.60 L392.0 286.59 L392.5 286.58 L393.0 286.56 L393.5 286.55 L394.0 286.54 L394.5 286.53 L395.0 286.53 L395.5 286.53 L396.0 286.53 L396.5 286.54 L397.0 286.55 L397.5 286.57 L398.0 286.58 L398.5 286.60 L399.0 286.62 L399.5 286.63 L400.0 286.65 L400.5 286.67 L401.0 286.68 L401.5 286.70 L402.0 286.71 L402.5 286.72 L403.0 286.73 L403.5 286.73 L404.0 286.73 L404.5 286.73 L405.0 286.71 L405.5 286.70 L406.0 286.67 L406.5 286.65 L407.0 286.63 L407.5 286.60 L408.0 286.59 L408.5 286.57 L409.0 286.56 L409.5 286.56 L410.0 286.56 L410.5 286.57 L411.0 286.57 L411.5 286.58 L412.0 286.58 L412.5 286.58 L413.0 286.59 L413.5 286.59 L414.0 286.59 L414.5 286.60 L415.0 286.61 L415.5 286.61 L416.0 286.62 L416.5 286.63 L417.0 286.63 L417.5 286.62 L418.0 286.62 L418.5 286.61 L419.0 286.59 L419.5 286.58 L420.0 286.57 L420.5 286.56 L421.0 286.55 L421.5 286.55 L422.0 286.54 L422.5 286.54 L423.0 286.54 L423.5 286.54 L424.0 286.54 L424.5 286.54 L425.0 286.54 L425.5 286.54 L426.0 286.55 L426.5 286.56 L427.0 286.56 L427.5 286.57 L428.0 286.58 L428.5 286.59 L429.0 286.59 L429.5 286.59 L430.0 286.58 L430.5 286.57 L431.0 286.56 L431.5 286.54 L432.0 286.51 L432.5 286.49 L433.0 286.47 L433.5 286.45 L434.0 286.44 L434.5 286.43 L435.0 286.43 L435.5 286.43 L436.0 286.44 L436.5 286.46 L437.0 286.47 L437.5 286.50 L438.0 286.52 L438.5 286.54 L439.0 286.57 L439.5 286.59 L440.0 286.61 L440.5 286.63 L441.0 286.65 L441.5 286.66 L442.0 286.67 L442.5 286.68 L443.0 286.68 L443.5 286.69 L444.0 286.69 L444.5 286.68 L445.0 286.68 L445.5 286.68 L446.0 286.67 L446.5 286.67 L447.0 286.66 L447.5 286.65 L448.0 286.64 L448.5 286.62 L449.0 286.61 L449.5 286.60 L450.0 286.58 L450.5 286.58 L451.0 286.57 L451.5 286.57 L452.0 286.58 L452.5 286.59 L453.0 286.60 L453.5 286.61 L454.0 286.62 L454.5 286.63 L455.0 286.63 L455.5 286.64 L456.0 286.63 L456.5 286.63 L457.0 286.62 L457.5 286.61 L458.0 286.60 L458.5 286.58 L459.0 286.57 L459.5 286.56 L460.0 286.55 L460.5 286.54 L461.0 286.53 L461.5 286.53 L462.0 286.53 L462.5 286.52 L463.0 286.52 L463.5 286.53 L464.0 286.54 L464.5 286.55 L465.0 286.57 L465.5 286.60 L466.0 286.63 L466.5 286.66 L467.0 286.70 L467.5 286.73 L468.0 286.77 L468.5 286.80 L469.0 286.82 L469.5 286.83 L470.0 286.84 L470.5 286.84 L471.0 286.83 L471.5 286.81 L472.0 286.79 L472.5 286.76 L473.0 286.73 L473.5 286.70 L474.0 286.68 L474.5 286.66 L475.0 286.64 L475.5 286.64 L476.0 286.64 L476.5 286.65 L477.0 286.67 L477.5 286.69 L478.0 286.71 L478.5 286.74 L479.0 286.76 L479.5 286.77 L480.0 286.78 L480.5 286.79 L481.0 286.79 L481.5 286.79 L482.0 286.78 L482.5 286.77 L483.0 286.76 L483.5 286.75 L484.0 286.75 L484.5 286.74 L485.0 286.73 L485.5 286.72 L486.0 286.72 L486.5 286.71 L487.0 286.71 L487.5 286.70 L488.0 286.69 L488.5 286.68 L489.0 286.67 L489.5 286.66 L490.0 286.66 L490.5 286.66 L491.0 286.66 L491.5 286.67 L492.0 286.69 L492.5 286.71 L493.0 286.74 L493.5 286.76 L494.0 286.79 L494.5 286.81 L495.0 286.83 L495.5 286.85 L496.0 286.86" stroke="#f6a826"/>
<path d="M57.5 262.57 L58.0 262.52 L58.5 262.46 L59.0 262.41 L59.5 262.35 L60.0 262.30 L60.5 262.26 L61.0 262.21 L61.5 262.17 L62.0 262.13 L62.5 262.09 L63.0 262.05 L63.5 262.02 L64.0 261.98 L64.5 261.94 L65.0 261.91 L65.5 261.86 L66.0 261.82 L66.5 261.77 L67.0 261.71 L67.5 261.65 L68.0 261.58 L68.5 261.50 L69.0 261.42 L69.5 261.33 L70.0 261.24 L70.5 261.14 L71.0 261.04 L71.5 260.94 L72.0 260.85 L72.5 260.75 L73.0 260.65 L73.5 260.56 L74.0 260.47 L74.5 260.38 L75.0 260.29 L75.5 260.20 L76.0 260.10 L76.5 259.99 L77.0 259.88 L77.5 259.77 L78.0 259.65 L78.5 259.52 L79.0 259.39 L79.5 259.26 L80.0 259.12 L80.5 258.98 L81.0 258.84 L81.5 258.68 L82.0 258.52 L82.5 258.34 L83.0 258.15 L83.5 257.93 L84.0 257.69 L84.5 257.41 L85.0 257.11 L85.5 256.80 L86.0 256.45 L86.5 256.07 L87.0 255.64 L87.5 255.16 L88.0 254.62 L88.5 254.03 L89.0 253.35 L89.5 252.58 L90.0 251.69 L90.5 250.65 L91.0 249.44 L91.5 247.99 L92.0 246.26 L92.5 244.15 L93.0 241.55 L93.5 238.30 L94.0 234.17 L94.5 228.84 L95.0 221.84 L95.5 212.58 L96.0 200.29 L96.5 184.17 L97.0 163.52 L97.5 138.16 L98.0 108.83 L98.5 77.54 L99.0 47.64 L99.5 23.47 L100.0 9.03 L100.5 6.92 L101.0 17.51 L101.5 38.81 L102.0 67.10 L102.5 98.30 L103.0 128.73 L103.5 155.81 L104.0 178.33 L104.5 196.18 L105.0 209.87 L105.5 220.21 L106.0 227.99 L106.5 233.89 L107.0 238.43 L107.5 241.97 L108.0 244.79 L108.5 247.06 L109.0 248.93 L109.5 250.49 L110.0 251.80 L110.5 252.91 L111.0 253.86 L111.5 254.69 L112.0 255.41 L112.5 256.04 L113.0 256.59 L113.5 257.07 L114.0 257.51 L114.5 257.89 L115.0 258.24 L115.5 258.54 L116.0 258.82 L116.5 259.07 L117.0 259.30 L117.5 259.51 L118.0 259.69 L118.5 259.86 L119.0 260.01 L119.5 260.14 L120.0 260.25 L120.5 260.34 L121.0 260.40 L121.5 260.44 L122.0 260.44 L122.5 260.39 L123.0 260.28 L123.5 260.08 L124.0 259.79 L124.5 259.47 L125.0 259.27 L125.5 259.36 L126.0 259.72 L126.5 260.16 L127.0 260.55 L127.5 260.86 L128.0 261.09 L128.5 261.27 L129.0 261.40 L129.5 261.49 L130.0 261.57 L130.5 261.63 L131.0 261.67 L131.5 261.71 L132.0 261.74 L132.5 261.77 L133.0 261.80 L133.5 261.83 L134.0 261.85 L134.5 261.88 L135.0 261.91 L135.5 261.94 L136.0 261.97 L136.5 261.99 L137.0 262.02 L137.5 262.04 L138.0 262.07 L138.5 262.09 L139.0 262.12 L139.5 262.14 L140.0 262.17 L140.5 262.20 L141.0 262.22 L141.5 262.25 L142.0 262.27 L142.5 262.29 L143.0 262.31 L143.5 262.32 L144.0 262.33 L144.5 262.34 L145.0 262.34 L145.5 262.34 L146.0 262.34 L146.5 262.35 L147.0 262.36 L147.5 262.37 L148.0 262.38 L148.5 262.40 L149.0 262.42 L149.5 262.43 L150.0 262.45 L150.5 262.47 L151.0 262.48 L151.5 262.49 L152.0 262.50 L152.5 262.50 L153.0 262.51 L153.5 262.51 L154.0 262.51 L154.5 262.51 L155.0 262.51 L155.5 262.52 L156.0 262.52 L156.5 262.53 L157.0 262.53 L157.5 262.53 L158.0 262.53 L158.5 262.53 L159.0 262.53 L159.5 262.52 L160.0 262.52 L160.5 262.51 L161.0 262.50 L161.5 262.49 L162.0 262.48 L162.5 262.47 L163.0 262.46 L163.5 262.46 L164.0 262.45 L164.5 262.45 L165.0 262.45 L165.5 262.46 L166.0 262.46 L166.5 262.47 L167.0 262.48 L167.5 262.50 L168.0 262.52 L168.5 262.54 L169.0 262.56 L169.5 262.58 L170.0 262.61 L170.5 262.63 L171.0 262.64 L171.5 262.66 L172.0 262.66 L172.5 262.66 L173.0 262.66 L173.5 262.64 L174.0 262.63 L174.5 262.60 L175.0 262.58 L175.5 262.55 L176.0 262.52 L176.5 262.49 L177.0 262.47 L177.5 262.45 L178.0 262.44 L178.5 262.43 L179.0 262.43 L179.5 262.43 L180.0 262.43 L180.5 262.44 L181.0 262.45 L181.5 262.46 L182.0 262.47 L182.5 262.48 L183.0 262.48 L183.5 262.48 L184.0 262.49 L184.5 262.49 L185.0 262.49 L185.5 262.49 L186.0 262.50 L186.5 262.51 L187.0 262.51 L187.5 262.52 L188.0 262.53 L188.5 262.53 L189.0 262.54 L189.5 262.54 L190.0 262.54 L190.5 262.53 L191.0 262.52 L191.5 262.51 L192.0 262.50 L192.5 262.48 L193.0 262.46 L193.5 262.44 L194.0 262.42 L194.5 262.40 L195.0 262.38 L195.5 262.36 L196.0 262.35 L196.5 262.33 L197.0 262.32 L197.5 262.31 L198.0 262.30 L198.5 262.29 L199.0 262.28 L199.5 262.26 L200.0 262.24 L200.5 262.21 L201.0 262.18 L201.5 262.15 L202.0 262.11 L202.5 262.08 L203.0 262.04 L203.5 262.00 L204.0 261.96 L204.5 261.91 L205.0 261.86 L205.5 261.80 L206.0 261.73 L206.5 261.64 L207.0 261.54 L207.5 261.41 L208.0 261.26 L208.5 261.09 L209.0 260.89 L209.5 260.67 L210.0 260.41 L210.5 260.13 L211.0 259.81 L211.5 259.46 L212.0 259.06 L212.5 258.61 L213.0 258.12 L213.5 257.57 L214.0 256.98 L214.5 256.37 L215.0 255.76 L215.5 255.19 L216.0 254.73 L216.5 254.42 L217.0 254.32 L217.5 254.40 L218.0 254.65 L218.5 255.02 L219.0 255.50 L219.5 256.03 L220.0 256.58 L220.5 257.13 L221.0 257.65 L221.5 258.13 L222.0 258.56 L222.5 258.94 L223.0 259.27 L223.5 259.56 L224.0 259.82 L224.5 260.04 L225.0 260.24 L225.5 260.42 L226.0 260.58 L226.5 260.72 L227.0 260.86 L227.5 260.98 L228.0 261.09 L228.5 261.20 L229.0 261.29 L229.5 261.37 L230.0 261.45 L230.5 261.52 L231.0 261.58 L231.5 261.64 L232.0 261.69 L232.5 261.74 L233.0 261.79 L233.5 261.83 L234.0 261.87 L234.5 261.91 L235.0 261.95 L235.5 261.99 L236.0 262.02 L236.5 262.05 L237.0 262.08 L237.5 262.11 L238.0 262.13 L238.5 262.15 L239.0 262.17 L239.5 262.19 L240.0 262.20 L240.5 262.22 L241.0 262.24 L241.5 262.25 L242.0 262.27 L242.5 262.28 L243.0 262.29 L243.5 262.29 L244.0 262.28 L244.5 262.27 L245.0 262.25 L245.5 262.22 L246.0 262.19 L246.5 262.16 L247.0 262.13 L247.5 262.10 L248.0 262.08 L248.5 262.06 L249.0 262.05 L249.5 262.04 L250.0 262.04 L250.5 262.05 L251.0 262.06 L251.5 262.07 L252.0 262.08 L252.5 262.09 L253.0 262.10 L253.5 262.10 L254.0 262.10 L254.5 262.10 L255.0 262.09 L255.5 262.08 L256.0 262.06 L256.5 262.05 L257.0 262.02 L257.5 261.99 L258.0 261.96 L258.5 261.92 L259.0 261.88 L259.5 261.83 L260.0 261.77 L260.5 261.71 L261.0 261.65 L261.5 261.58 L262.0 261.50 L262.5 261.41 L263.0 261.30 L263.5 261.17 L264.0 261.02 L264.5 260.84 L265.0 260.62 L265.5 260.36 L266.0 260.06 L266.5 259.72 L267.0 259.32 L267.5 258.87 L268.0 258.37 L268.5 257.82 L269.0 257.21 L269.5 256.57 L270.0 255.92 L270.5 255.31 L271.0 254.81 L271.5 254.48 L272.0 254.38 L272.5 254.46 L273.0 254.67 L273.5 254.97 L274.0 255.35 L274.5 255.78 L275.0 256.24 L275.5 256.69 L276.0 257.14 L276.5 257.55 L277.0 257.94 L277.5 258.30 L278.0 258.63 L278.5 258.94 L279.0 259.21 L279.5 259.47 L280.0 259.71 L280.5 259.92 L281.0 260.12 L281.5 260.29 L282.0 260.45 L282.5 260.60 L283.0 260.73 L283.5 260.84 L284.0 260.95 L284.5 261.04 L285.0 261.13 L285.5 261.21 L286.0 261.28 L286.5 261.34 L287.0 261.40 L287.5 261.45 L288.0 261.50 L288.5 261.54 L289.0 261.59 L289.5 261.63 L290.0 261.67 L290.5 261.70 L291.0 261.73 L291.5 261.75 L292.0 261.76 L292.5 261.77 L293.0 261.77 L293.5 261.76 L294.0 261.75 L294.5 261.73 L295.0 261.72 L295.5 261.70 L296.0 261.68 L296.5 261.65 L297.0 261.63 L297.5 261.61 L298.0 261.58 L298.5 261.55 L299.0 261.53 L299.5 261.50 L300.0 261.47 L300.5 261.44 L301.0 261.41 L301.5 261.38 L302.0 261.35 L302.5 261.32 L303.0 261.28 L303.5 261.25 L304.0 261.21 L304.5 261.17 L305.0 261.12 L305.5 261.07 L306.0 261.03 L306.5 260.97 L307.0 260.92 L307.5 260.86 L308.0 260.80 L308.5 260.72 L309.0 260.64 L309.5 260.55 L310.0 260.45 L310.5 260.34 L311.0 260.22 L311.5 260.08 L312.0 259.93 L312.5 259.77 L313.0 259.59 L313.5 259.40 L314.0 259.19 L314.5 258.97 L315.0 258.73 L315.5 258.47 L316.0 258.18 L316.5 257.87 L317.0 257.52 L317.5 257.14 L318.0 256.71 L318.5 256.25 L319.0 255.73 L319.5 255.15 L320.0 254.52 L320.5 253.82 L321.0 253.04 L321.5 252.18 L322.0 251.22 L322.5 250.17 L323.0 249.01 L323.5 247.74 L324.0 246.36 L324.5 244.88 L325.0 243.33 L325.5 241.73 L326.0 240.16 L326.5 238.69 L327.0 237.41 L327.5 236.41 L328.0 235.79 L328.5 235.61 L329.0 235.80 L329.5 236.31 L330.0 237.11 L330.5 238.13 L331.0 239.32 L331.5 240.62 L332.0 241.97 L332.5 243.33 L333.0 244.66 L333.5 245.94 L334.0 247.15 L334.5 248.29 L335.0 249.34 L335.5 250.31 L336.0 251.21 L336.5 252.03 L337.0 252.78 L337.5 253.48 L338.0 254.11 L338.5 254.70 L339.0 255.24 L339.5 255.74 L340.0 256.20 L340.5 256.62 L341.0 257.02 L341.5 257.38 L342.0 257.71 L342.5 258.01 L343.0 258.29 L343.5 258.54 L344.0 258.76 L344.5 258.96 L345.0 259.15 L345.5 259.32 L346.0 259.48 L346.5 259.63 L347.0 259.77 L347.5 259.89 L348.0 260.01 L348.5 260.12 L349.0 260.23 L349.5 260.32 L350.0 260.41 L350.5 260.49 L351.0 260.57 L351.5 260.63 L352.0 260.70 L352.5 260.75 L353.0 260.81 L353.5 260.86 L354.0 260.92 L354.5 260.98 L355.0 261.03 L355.5 261.09 L356.0 261.14 L356.5 261.20 L357.0 261.25 L357.5 261.30 L358.0 261.35 L358.5 261.40 L359.0 261.45 L359.5 261.50 L360.0 261.55 L360.5 261.59 L361.0 261.63 L361.5 261.67 L362.0 261.71 L362.5 261.74 L363.0 261.77 L363.5 261.79 L364.0 261.81 L364.5 261.82 L365.0 261.83 L365.5 261.84 L366.0 261.84 L366.5 261.85 L367.0 261.85 L367.5 261.85 L368.0 261.85 L368.5 261.85 L369.0 261.85 L369.5 261.85 L370.0 261.85 L370.5 261.86 L371.0 261.86 L371.5 261.87 L372.0 261.87 L372.5 261.88 L373.0 261.88 L373.5 261.88 L374.0 261.89 L374.5 261.89 L375.0 261.89 L375.5 261.90 L376.0 261.91 L376.5 261.92 L377.0 261.93 L377.5 261.94 L378.0 261.96 L378.5 261.97 L379.0 261.99 L379.5 262.01 L380.0 262.02 L380.5 262.04 L381.0 262.06 L381.5 262.08 L382.0 262.10 L382.5 262.12 L383.0 262.14 L383.5 262.16 L384.0 262.19 L384.5 262.21 L385.0 262.23 L385.5 262.25 L386.0 262.26 L386.5 262.26 L387.0 262.26 L387.5 262.25 L388.0 262.23 L388.5 262.20 L389.0 262.18 L389.5 262.16 L390.0 262.14 L390.5 262.13 L391.0 262.13 L391.5 262.15 L392.0 262.16 L392.5 262.19 L393.0 262.22 L393.5 262.26 L394.0 262.29 L394.5 262.32 L395.0 262.34 L395.5 262.36 L396.0 262.38 L396.5 262.40 L397.0 262.41 L397.5 262.43 L398.0 262.44 L398.5 262.45 L399.0 262.47 L399.5 262.48 L400.0 262.49 L400.5 262.50 L401.0 262.50 L401.5 262.49 L402.0 262.48 L402.5 262.46 L403.0 262.44 L403.5 262.42 L404.0 262.40 L404.5 262.39 L405.0 262.39 L405.5 262.39 L406.0 262.40 L406.5 262.41 L407.0 262.42 L407.5 262.44 L408.0 262.46 L408.5 262.47 L409.0 262.48 L409.5 262.48 L410.0 262.48 L410.5 262.48 L411.0 262.47 L411.5 262.46 L412.0 262.45 L412.5 262.43 L413.0 262.42 L413.5 262.41 L414.0 262.40 L414.5 262.38 L415.0 262.37 L415.5 262.36 L416.0 262.36 L416.5 262.36 L417.0 262.36 L417.5 262.36 L418.0 262.37 L418.5 262.39 L419.0 262.41 L419.5 262.43 L420.0 262.46 L420.5 262.50 L421.0 262.53 L421.5 262.57 L422.0 262.61 L422.5 262.65 L423.0 262.68 L423.5 262.72 L424.0 262.75 L424.5 262.78 L425.0 262.81 L425.5 262.83 L426.0 262.85 L426.5 262.87 L427.0 262.88 L427.5 262.90 L428.0 262.90 L428.5 262.90 L429.0 262.90 L429.5 262.90 L430.0 262.89 L430.5 262.87 L431.0 262.86 L431.5 262.84 L432.0 262.81 L432.5 262.79 L433.0 262.76 L433.5 262.73 L434.0 262.70 L434.5 262.67 L435.0 262.64 L435.5 262.62 L436.0 262.60 L436.5 262.58 L437.0 262.57 L437.5 262.56 L438.0 262.56 L438.5 262.55 L439.0 262.55 L439.5 262.55 L440.0 262.55 L440.5 262.55 L441.0 262.55 L441.5 262.55 L442.0 262.55 L442.5 262.55 L443.0 262.56 L443.5 262.57 L444.0 262.58 L444.5 262.60 L445.0 262.62 L445.5 262.64 L446.0 262.66 L446.5 262.68 L447.0 262.69 L447.5 262.71 L448.0 262.72 L448.5 262.72 L449.0 262.72 L449.5 262.72 L450.0 262.71 L450.5 262.70 L451.0 262.69 L451.5 262.67 L452.0 262.65 L452.5 262.63 L453.0 262.61 L453.5 262.59 L454.0 262.58 L454.5 262.57 L455.0 262.56 L455.5 262.56 L456.0 262.57 L456.5 262.58 L457.0 262.59 L457.5 262.61 L458.0 262.63 L458.5 262.64 L459.0 262.66 L459.5 262.66 L460.0 262.67 L460.5 262.68 L461.0 262.68 L461.5 262.68 L462.0 262.69 L462.5 262.69 L463.0 262.69 L463.5 262.70 L464.0 262.70 L464.5 262.70 L465.0 262.70 L465.5 262.70 L466.0 262.70 L466.5 262.69 L467.0 262.69 L467.5 262.68 L468.0 262.68 L468.5 262.69 L469.0 262.69 L469.5 262.70 L470.0 262.71 L470.5 262.71 L471.0 262.72 L471.5 262.73 L472.0 262.73 L472.5 262.74 L473.0 262.74 L473.5 262.75 L474.0 262.75 L474.5 262.76 L475.0 262.77 L475.5 262.79 L476.0 262.80 L476.5 262.81 L477.0 262.82 L477.5 262.82 L478.0 262.82 L478.5 262.82 L479.0 262.81 L479.5 262.80 L480.0 262.78 L480.5 262.77 L481.0 262.76 L481.5 262.75 L482.0 262.75 L482.5 262.76 L483.0 262.78 L483.5 262.80 L484.0 262.82 L484.5 262.85 L485.0 262.88 L485.5 262.91 L486.0 262.93 L486.5 262.94 L487.0 262.94 L487.5 262.93 L488.0 262.92 L488.5 262.90 L489.0 262.88 L489.5 262.85 L490.0 262.83 L490.5 262.81 L491.0 262.80 L491.5 262.79 L492.0 262.79 L492.5 262.79 L493.0 262.80 L493.5 262.81 L494.0 262.81 L494.5 262.82 L495.0 262.82 L495.5 262.82 L496.0 262.81" stroke="#f04a18"/>
<path d="M57.5 236.72 L58.0 236.72 L58.5 236.71 L59.0 236.71 L59.5 236.70 L60.0 236.69 L60.5 236.68 L61.0 236.66 L61.5 236.64 L62.0 236.62 L62.5 236.40 L63.0 235.92 L63.5 235.42 L64.0 234.92 L64.5 234.81 L65.0 234.69 L65.5 234.58 L66.0 234.47 L66.5 234.36 L67.0 234.25 L67.5 234.15 L68.0 234.05 L68.5 233.96 L69.0 233.88 L69.5 233.80 L70.0 233.72 L70.5 233.65 L71.0 233.58 L71.5 233.51 L72.0 233.44 L72.5 233.38 L73.0 233.32 L73.5 233.25 L74.0 233.19 L74.5 233.13 L75.0 233.06 L75.5 233.00 L76.0 232.93 L76.5 232.92 L77.0 232.89 L77.5 232.87 L78.0 232.84 L78.5 232.80 L79.0 232.77 L79.5 232.72 L80.0 232.68 L80.5 232.63 L81.0 232.58 L81.5 232.54 L82.0 232.49 L82.5 232.45 L83.0 232.42 L83.5 232.38 L84.0 232.36 L84.5 232.33 L85.0 232.31 L85.5 232.29 L86.0 232.27 L86.5 232.25 L87.0 232.24 L87.5 232.23 L88.0 232.22 L88.5 232.22 L89.0 232.21 L89.5 232.21 L90.0 232.20 L90.5 232.19 L91.0 232.17 L91.5 232.14 L92.0 232.10 L92.5 232.05 L93.0 231.99 L93.5 231.92 L94.0 231.85 L94.5 231.77 L95.0 231.70 L95.5 231.62 L96.0 231.55 L96.5 231.49 L97.0 231.44 L97.5 231.44 L98.0 231.45 L98.5 231.47 L99.0 231.50 L99.5 231.54 L100.0 231.57 L100.5 231.61 L101.0 231.65 L101.5 231.68 L102.0 231.71 L102.5 231.73 L103.0 231.75 L103.5 231.76 L104.0 231.77 L104.5 231.78 L105.0 231.79 L105.5 231.81 L106.0 231.82 L106.5 231.84 L107.0 231.86 L107.5 231.89 L108.0 231.90 L108.5 231.92 L109.0 231.93 L109.5 231.93 L110.0 231.92 L110.5 231.91 L111.0 231.90 L111.5 231.88 L112.0 231.86 L112.5 231.85 L113.0 231.84 L113.5 231.83 L114.0 231.82 L114.5 231.82 L115.0 231.81 L115.5 231.81 L116.0 231.80 L116.5 231.80 L117.0 231.79 L117.5 231.78 L118.0 231.77 L118.5 231.77 L119.0 231.77 L119.5 231.78 L120.0 231.79 L120.5 231.80 L121.0 231.82 L121.5 231.84 L122.0 231.86 L122.5 231.88 L123.0 231.90 L123.5 231.91 L124.0 231.92 L124.5 231.93 L125.0 231.93 L125.5 231.93 L126.0 231.93 L126.5 231.93 L127.0 231.93 L127.5 231.93 L128.0 231.94 L128.5 231.96 L129.0 231.99 L129.5 232.02 L130.0 232.06 L130.5 232.10 L131.0 232.14 L131.5 232.17 L132.0 232.19 L132.5 232.21 L133.0 232.21 L133.5 232.20 L134.0 232.19 L134.5 232.17 L135.0 232.16 L135.5 232.15 L136.0 232.15 L136.5 232.15 L137.0 232.16 L137.5 232.18 L138.0 232.21 L138.5 232.24 L139.0 232.27 L139.5 232.30 L140.0 232.34 L140.5 232.37 L141.0 232.41 L141.5 232.45 L142.0 232.49 L142.5 232.52 L143.0 232.55 L143.5 232.57 L144.0 232.58 L144.5 232.59 L145.0 232.59 L145.5 232.58 L146.0 232.57 L146.5 232.55 L147.0 232.52 L147.5 232.50 L148.0 232.47 L148.5 232.45 L149.0 232.43 L149.5 232.42 L150.0 232.42 L150.5 232.42 L151.0 232.45 L151.5 232.48 L152.0 232.51 L152.5 232.56 L153.0 232.61 L153.5 232.66 L154.0 232.71 L154.5 232.76 L155.0 232.80 L155.5 232.83 L156.0 232.86 L156.5 232.88 L157.0 232.89 L157.5 232.90 L158.0 232.90 L158.5 232.90 L159.0 232.89 L159.5 232.89 L160.0 232.90 L160.5 232.91 L161.0 232.92 L161.5 232.94 L162.0 232.95 L162.5 232.97 L163.0 232.99 L163.5 233.00 L164.0 233.01 L164.5 233.00 L165.0 232.99 L165.5 232.98 L166.0 232.96 L166.5 232.94 L167.0 232.92 L167.5 232.91 L168.0 232.90 L168.5 232.89 L169.0 232.90 L169.5 232.90 L170.0 232.91 L170.5 232.92 L171.0 232.93 L171.5 232.93 L172.0 232.94 L172.5 232.94 L173.0 232.95 L173.5 232.96 L174.0 232.98 L174.5 233.00 L175.0 233.03 L175.5 233.06 L176.0 233.10 L176.5 233.14 L177.0 233.19 L177.5 233.23 L178.0 233.27 L178.5 233.31 L179.0 233.35 L179.5 233.38 L180.0 233.40 L180.5 233.41 L181.0 233.42 L181.5 233.42 L182.0 233.41 L182.5 233.40 L183.0 233.39 L183.5 233.37 L184.0 233.36 L184.5 233.35 L185.0 233.34 L185.5 233.34 L186.0 233.35 L186.5 233.36 L187.0 233.37 L187.5 233.39 L188.0 233.40 L188.5 233.42 L189.0 233.44 L189.5 233.46 L190.0 233.47 L190.5 233.49 L191.0 233.50 L191.5 233.51 L192.0 233.52 L192.5 233.53 L193.0 233.53 L193.5 233.53 L194.0 233.53 L194.5 233.52 L195.0 233.51 L195.5 233.50 L196.0 233.49 L196.5 233.49 L197.0 233.48 L197.5 233.49 L198.0 233.52 L198.5 233.55 L199.0 233.60 L199.5 233.66 L200.0 233.73 L200.5 233.80 L201.0 233.88 L201.5 233.96 L202.0 234.04 L202.5 234.11 L203.0 234.17 L203.5 234.22 L204.0 234.26 L204.5 234.28 L205.0 234.29 L205.5 234.28 L206.0 234.26 L206.5 234.23 L207.0 234.19 L207.5 234.14 L208.0 234.09 L208.5 234.04 L209.0 234.00 L209.5 233.96 L210.0 233.92 L210.5 233.89 L211.0 233.87 L211.5 233.86 L212.0 233.86 L212.5 233.86 L213.0 233.87 L213.5 233.88 L214.0 233.90 L214.5 233.91 L215.0 233.93 L215.5 233.95 L216.0 233.97 L216.5 233.98 L217.0 233.99 L217.5 234.00 L218.0 234.00 L218.5 234.01 L219.0 234.02 L219.5 234.04 L220.0 234.07 L220.5 234.10 L221.0 234.14 L221.5 234.19 L222.0 234.23 L222.5 234.27 L223.0 234.30 L223.5 234.32 L224.0 234.33 L224.5 234.33 L225.0 234.32 L225.5 234.30 L226.0 234.28 L226.5 234.27 L227.0 234.26 L227.5 234.26 L228.0 234.26 L228.5 234.28 L229.0 234.31 L229.5 234.34 L230.0 234.38 L230.5 234.41 L231.0 234.45 L231.5 234.48 L232.0 234.50 L232.5 234.51 L233.0 234.52 L233.5 234.52 L234.0 234.51 L234.5 234.49 L235.0 234.47 L235.5 234.45 L236.0 234.42 L236.5 234.38 L237.0 234.35 L237.5 234.31 L238.0 234.28 L238.5 234.24 L239.0 234.22 L239.5 234.19 L240.0 234.18 L240.5 234.18 L241.0 234.19 L241.5 234.21 L242.0 234.24 L242.5 234.28 L243.0 234.33 L243.5 234.39 L244.0 234.45 L244.5 234.51 L245.0 234.56 L245.5 234.61 L246.0 234.66 L246.5 234.69 L247.0 234.71 L247.5 234.72 L248.0 234.72 L248.5 234.70 L249.0 234.68 L249.5 234.66 L250.0 234.63 L250.5 234.60 L251.0 234.57 L251.5 234.55 L252.0 234.52 L252.5 234.51 L253.0 234.49 L253.5 234.48 L254.0 234.47 L254.5 234.46 L255.0 234.46 L255.5 234.45 L256.0 234.43 L256.5 234.42 L257.0 234.41 L257.5 234.39 L258.0 234.38 L258.5 234.36 L259.0 234.35 L259.5 234.34 L260.0 234.33 L260.5 234.32 L261.0 234.32 L261.5 234.33 L262.0 234.34 L262.5 234.36 L263.0 234.39 L263.5 234.41 L264.0 234.44 L264.5 234.47 L265.0 234.49 L265.5 234.51 L266.0 234.52 L266.5 234.53 L267.0 234.53 L267.5 234.52 L268.0 234.52 L268.5 234.51 L269.0 234.50 L269.5 234.49 L270.0 234.49 L270.5 234.50 L271.0 234.52 L271.5 234.55 L272.0 234.58 L272.5 234.62 L273.0 234.67 L273.5 234.72 L274.0 234.77 L274.5 234.81 L275.0 234.85 L275.5 234.88 L276.0 234.91 L276.5 234.93 L277.0 234.94 L277.5 234.94 L278.0 234.94 L278.5 234.93 L279.0 234.92 L279.5 234.90 L280.0 234.89 L280.5 234.88 L281.0 234.87 L281.5 234.87 L282.0 234.87 L282.5 234.88 L283.0 234.88 L283.5 234.89 L284.0 234.89 L284.5 234.88 L285.0 234.87 L285.5 234.85 L286.0 234.83 L286.5 234.81 L287.0 234.79 L287.5 234.77 L288.0 234.76 L288.5 234.76 L289.0 234.78 L289.5 234.80 L290.0 234.83 L290.5 234.87 L291.0 234.92 L291.5 234.97 L292.0 235.01 L292.5 235.06 L293.0 235.09 L293.5 235.12 L294.0 235.14 L294.5 235.16 L295.0 235.16 L295.5 235.16 L296.0 235.15 L296.5 235.13 L297.0 235.11 L297.5 235.09 L298.0 235.05 L298.5 235.02 L299.0 234.99 L299.5 234.96 L300.0 234.93 L300.5 234.92 L301.0 234.91 L301.5 234.91 L302.0 234.93 L302.5 234.95 L303.0 234.99 L303.5 235.03 L304.0 235.07 L304.5 235.11 L305.0 235.15 L305.5 235.18 L306.0 235.20 L306.5 235.21 L307.0 235.21 L307.5 235.19 L308.0 235.16 L308.5 235.12 L309.0 235.08 L309.5 235.04 L310.0 234.99 L310.5 234.95 L311.0 234.92 L311.5 234.89 L312.0 234.87 L312.5 234.86 L313.0 234.85 L313.5 234.84 L314.0 234.84 L314.5 234.85 L315.0 234.85 L315.5 234.87 L316.0 234.89 L316.5 234.92 L317.0 234.95 L317.5 235.00 L318.0 235.04 L318.5 235.09 L319.0 235.14 L319.5 235.19 L320.0 235.23 L320.5 235.27 L321.0 235.30 L321.5 235.33 L322.0 235.35 L322.5 235.36 L323.0 235.36 L323.5 235.36 L324.0 235.36 L324.5 235.35 L325.0 235.34 L325.5 235.33 L326.0 235.32 L326.5 235.31 L327.0 235.32 L327.5 235.32 L328.0 235.34 L328.5 235.35 L329.0 235.38 L329.5 235.40 L330.0 235.42 L330.5 235.43 L331.0 235.45 L331.5 235.45 L332.0 235.46 L332.5 235.45 L333.0 235.45 L333.5 235.44 L334.0 235.44 L334.5 235.43 L335.0 235.43 L335.5 235.43 L336.0 235.44 L336.5 235.45 L337.0 235.46 L337.5 235.48 L338.0 235.49 L338.5 235.50 L339.0 235.50 L339.5 235.50 L340.0 235.49 L340.5 235.48 L341.0 235.46 L341.5 235.43 L342.0 235.41 L342.5 235.38 L343.0 235.36 L343.5 235.34 L344.0 235.33 L344.5 235.33 L345.0 235.33 L345.5 235.34 L346.0 235.36 L346.5 235.37 L347.0 235.40 L347.5 235.42 L348.0 235.44 L348.5 235.45 L349.0 235.46 L349.5 235.47 L350.0 235.47 L350.5 235.47 L351.0 235.48 L351.5 235.49 L352.0 235.51 L352.5 235.53 L353.0 235.57 L353.5 235.61 L354.0 235.65 L354.5 235.69 L355.0 235.73 L355.5 235.77 L356.0 235.80 L356.5 235.82 L357.0 235.83 L357.5 235.84 L358.0 235.84 L358.5 235.84 L359.0 235.85 L359.5 235.86 L360.0 235.87 L360.5 235.89 L361.0 235.92 L361.5 235.95 L362.0 235.99 L362.5 236.03 L363.0 236.07 L363.5 236.10 L364.0 236.14 L364.5 236.17 L365.0 236.19 L365.5 236.20 L366.0 236.20 L366.5 236.19 L367.0 236.18 L367.5 236.15 L368.0 236.12 L368.5 236.09 L369.0 236.06 L369.5 236.03 L370.0 236.01 L370.5 235.99 L371.0 235.98 L371.5 235.98 L372.0 235.98 L372.5 235.98 L373.0 235.99 L373.5 236.00 L374.0 236.01 L374.5 236.01 L375.0 236.01 L375.5 236.02 L376.0 236.02 L376.5 236.02 L377.0 236.03 L377.5 236.04 L378.0 236.06 L378.5 236.08 L379.0 236.10 L379.5 236.13 L380.0 236.16 L380.5 236.18 L381.0 236.20 L381.5 236.21 L382.0 236.22 L382.5 236.22 L383.0 236.21 L383.5 236.19 L384.0 236.17 L384.5 236.15 L385.0 236.13 L385.5 236.11 L386.0 236.10 L386.5 236.10 L387.0 236.10 L387.5 236.12 L388.0 236.15 L388.5 236.19 L389.0 236.24 L389.5 236.29 L390.0 236.35 L390.5 236.40 L391.0 236.45 L391.5 236.50 L392.0 236.54 L392.5 236.57 L393.0 236.59 L393.5 236.60 L394.0 236.61 L394.5 236.62 L395.0 236.62 L395.5 236.63 L396.0 236.63 L396.5 236.63 L397.0 236.63 L397.5 236.62 L398.0 236.62 L398.5 236.61 L399.0 236.61 L399.5 236.60 L400.0 236.60 L400.5 236.59 L401.0 236.59 L401.5 236.59 L402.0 236.60 L402.5 236.62 L403.0 236.64 L403.5 236.66 L404.0 236.69 L404.5 236.72 L405.0 236.75 L405.5 236.77 L406.0 236.79 L406.5 236.81 L407.0 236.81 L407.5 236.81 L408.0 236.80 L408.5 236.79 L409.0 236.77 L409.5 236.76 L410.0 236.75 L410.5 236.74 L411.0 236.74 L411.5 236.74 L412.0 236.75 L412.5 236.76 L413.0 236.77 L413.5 236.79 L414.0 236.80 L414.5 236.81 L415.0 236.82 L415.5 236.82 L416.0 236.82 L416.5 236.82 L417.0 236.81 L417.5 236.80 L418.0 236.80 L418.5 236.79 L419.0 236.79 L419.5 236.79 L420.0 236.80 L420.5 236.82 L421.0 236.84 L421.5 236.86 L422.0 236.88 L422.5 236.90 L423.0 236.92 L423.5 236.94 L424.0 236.95 L424.5 236.95 L425.0 236.95 L425.5 236.95 L426.0 236.94 L426.5 236.93 L427.0 236.92 L427.5 236.90 L428.0 236.88 L428.5 236.87 L429.0 236.85 L429.5 236.84 L430.0 236.83 L430.5 236.83 L431.0 236.84 L431.5 236.85 L432.0 236.86 L432.5 236.88 L433.0 236.90 L433.5 236.92 L434.0 236.94 L434.5 236.96 L435.0 236.98 L435.5 237.01 L436.0 237.03 L436.5 237.06 L437.0 237.09 L437.5 237.12 L438.0 237.15 L438.5 237.18 L439.0 237.20 L439.5 237.22 L440.0 237.23 L440.5 237.23 L441.0 237.22 L441.5 237.21 L442.0 237.19 L442.5 237.17 L443.0 237.15 L443.5 237.14 L444.0 237.12 L444.5 237.11 L445.0 237.10 L445.5 237.10 L446.0 237.10 L446.5 237.11 L447.0 237.11 L447.5 237.13 L448.0 237.14 L448.5 237.14 L449.0 237.15 L449.5 237.15 L450.0 237.15 L450.5 237.14 L451.0 237.13 L451.5 237.12 L452.0 237.11 L452.5 237.10 L453.0 237.09 L453.5 237.09 L454.0 237.10 L454.5 237.11 L455.0 237.12 L455.5 237.14 L456.0 237.16 L456.5 237.19 L457.0 237.21 L457.5 237.23 L458.0 237.25 L458.5 237.26 L459.0 237.27 L459.5 237.27 L460.0 237.27 L460.5 237.27 L461.0 237.26 L461.5 237.25 L462.0 237.24 L462.5 237.23 L463.0 237.22 L463.5 237.20 L464.0 237.19 L464.5 237.17 L465.0 237.15 L465.5 237.13 L466.0 237.12 L466.5 237.10 L467.0 237.09 L467.5 237.08 L468.0 237.08 L468.5 237.08 L469.0 237.09 L469.5 237.09 L470.0 237.10 L470.5 237.12 L471.0 237.13 L471.5 237.14 L472.0 237.15 L472.5 237.15 L473.0 237.16 L473.5 237.16 L474.0 237.16 L474.5 237.15 L475.0 237.14 L475.5 237.13 L476.0 237.10 L476.5 237.08 L477.0 237.05 L477.5 237.03 L478.0 237.00 L478.5 236.98 L479.0 236.96 L479.5 236.94 L480.0 236.94 L480.5 236.93 L481.0 236.93 L481.5 236.95 L482.0 236.96 L482.5 236.99 L483.0 237.02 L483.5 237.06 L484.0 237.10 L484.5 237.14 L485.0 237.19 L485.5 237.24 L486.0 237.29 L486.5 237.33 L487.0 237.36 L487.5 237.38 L488.0 237.39 L488.5 237.40 L489.0 237.39 L489.5 237.38 L490.0 237.35 L490.5 237.32 L491.0 237.29 L491.5 237.26 L492.0 237.22 L492.5 237.19 L493.0 237.16 L493.5 237.13 L494.0 237.10 L494.5 237.08 L495.0 237.07 L495.5 237.06 L496.0 237.06" stroke="#e8141c"/>
</g>
<path d="M100.2 462.5V3.6M125.1 462.5V3.6M217.1 462.5V3.6M271.7 462.5V3.6M328.9 462.5V3.6" fill="none" stroke="#1c1c1c" stroke-opacity="0.85" stroke-width="1.7" stroke-dasharray="3 5.07" stroke-dashoffset="0"/>
<g font-size="17" stroke="#000" stroke-width="0.25"><text transform="translate(364.85 232.8) scale(1.037 1)">TDMAT-250°C</text><text transform="translate(364.85 257.1) scale(1.037 1)">TTIP-250°C</text><text transform="translate(364.85 282) scale(1.037 1)">TiCl<tspan font-size="8.7" dy="0.3">4</tspan><tspan dy="-0.3">-250</tspan>°C</text><text transform="translate(364.85 306.1) scale(1.037 1)">TDMAT-200°C</text><text transform="translate(364.85 331.4) scale(1.037 1)">TTIP-200°C</text><text transform="translate(364.85 355.8) scale(1.037 1)">TiCl<tspan font-size="8.7" dy="0.3">4</tspan><tspan dy="-0.3">-200</tspan>°C</text><text transform="translate(364.85 380.7) scale(1.037 1)">TDMAT-150°C</text><text transform="translate(364.85 404.9) scale(1.037 1)">TTIP-150°C</text><text transform="translate(364.85 429.4) scale(1.037 1)">TiCl<tspan font-size="8.7" dy="0.3">4</tspan><tspan dy="-0.3">-150</tspan>°C</text><text transform="translate(364.85 453.9) scale(1.037 1)">TiCl<tspan font-size="8.7" dy="0.3">4</tspan><tspan dy="-0.3">-75</tspan>°C</text></g>
<g font-size="21" stroke="#000" stroke-width="0.3"><text transform="translate(126.3 495.9) scale(1.0 1.08)" text-anchor="middle">200</text><text transform="translate(218.4 495.9) scale(1.0 1.08)" text-anchor="middle">400</text><text transform="translate(310.5 495.9) scale(1.0 1.08)" text-anchor="middle">600</text><text transform="translate(402.6 495.9) scale(1.0 1.08)" text-anchor="middle">800</text><text transform="translate(494.7 495.9) scale(1.0 1.08)" text-anchor="middle">1000</text></g>
<text font-size="24" stroke="#000" stroke-width="0.3" transform="translate(19.7 341.8) rotate(-90)">Signal intensity (a.u.)</text>
<text font-size="23.92" stroke="#000" stroke-width="0.25" x="172.1" y="537.7">Raman shift (cm<tspan font-size="16.5" dy="-8.9" dx="1.2">-1</tspan><tspan dy="8.9" dx="-1">)</tspan></text>
</svg>
</body></html>
